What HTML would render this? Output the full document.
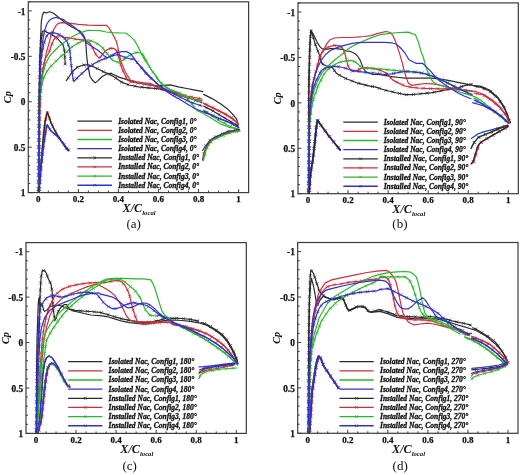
<!DOCTYPE html><html><head><meta charset="utf-8"><style>html,body{margin:0;padding:0;background:#fff;width:520px;height:475px;overflow:hidden}svg{display:block}</style></head><body>
<svg width="520" height="475" viewBox="0 0 520 475">
<rect width="520" height="475" fill="#fff"/>
<clipPath id="cpa"><rect x="28.28" y="1.81" width="220.33" height="190.78"/></clipPath>
<g clip-path="url(#cpa)" fill="none" stroke-width="1.2" stroke-linejoin="round" stroke-linecap="round">
<path d="M38.5,192.5 38.6,160 38.8,120 39.2,90 39.8,60 40.5,40 41.3,22 42.4,15 43.9,12.1 46.4,13 49.5,11.7 52,12.5 54.5,14 59,17.7 66.3,23.6 72,27 76.6,29.5 79.8,31 82.9,34.1 84.8,38 86,45 86.6,55 87.5,63 88.3,67.3 90,76.5 92.3,80 95.2,82.9 98.1,80.6 101.5,77.1 106.2,74.2 110.8,73.3 119.5,77.4 129,80.2 138.5,83 148,85 157.4,85.9 170,84.8 178.4,86.8 186.8,88.5 195.3,90.2 202.8,91.6" stroke="#2a2a2a"/>
<path d="M203.7,94.4 212.1,98.6 220.5,103.7 227.3,108.7 232.3,113.8 236.5,118.8 238.4,125" stroke="#2a2a2a"/>
<path d="M38.6,192.5 38.7,150 39,110 39.5,80 40.2,55 41,42 42.4,31.3 44.2,30.8 47,32.2 49.5,33.5 53.3,35.4 57,37.9 60.2,41.7 62.7,44.2 64,48 64.6,53 65,60 65.2,64.4" stroke="#2a2a2a"/>
<path d="M37.41,187.8l2.4,2.4m0,-2.4l-2.4,2.4M37.42,180.8l2.4,2.4m0,-2.4l-2.4,2.4M37.44,173.8l2.4,2.4m0,-2.4l-2.4,2.4M37.46,166.8l2.4,2.4m0,-2.4l-2.4,2.4M37.47,159.8l2.4,2.4m0,-2.4l-2.4,2.4M37.49,152.8l2.4,2.4m0,-2.4l-2.4,2.4M37.52,145.8l2.4,2.4m0,-2.4l-2.4,2.4M37.57,138.8l2.4,2.4m0,-2.4l-2.4,2.4M37.63,131.8l2.4,2.4m0,-2.4l-2.4,2.4M37.68,124.8l2.4,2.4m0,-2.4l-2.4,2.4M37.73,117.8l2.4,2.4m0,-2.4l-2.4,2.4M37.78,110.8l2.4,2.4m0,-2.4l-2.4,2.4M37.88,103.8l2.4,2.4m0,-2.4l-2.4,2.4M38,96.8l2.4,2.4m0,-2.4l-2.4,2.4M38.12,89.8l2.4,2.4m0,-2.4l-2.4,2.4M38.23,82.8l2.4,2.4m0,-2.4l-2.4,2.4M38.38,75.81l2.4,2.4m0,-2.4l-2.4,2.4M38.58,68.81l2.4,2.4m0,-2.4l-2.4,2.4M38.78,61.81l2.4,2.4m0,-2.4l-2.4,2.4M38.97,54.81l2.4,2.4m0,-2.4l-2.4,2.4M39.37,47.83l2.4,2.4m0,-2.4l-2.4,2.4M39.8,40.84l2.4,2.4m0,-2.4l-2.4,2.4M40.7,33.9l2.4,2.4m0,-2.4l-2.4,2.4M44.16,30.18l2.4,2.4m0,-2.4l-2.4,2.4M50.4,33.35l2.4,2.4m0,-2.4l-2.4,2.4M56.21,37.19l2.4,2.4m0,-2.4l-2.4,2.4M60.89,42.39l2.4,2.4m0,-2.4l-2.4,2.4M63.05,48.9l2.4,2.4m0,-2.4l-2.4,2.4M63.63,55.88l2.4,2.4m0,-2.4l-2.4,2.4M63.98,62.87l2.4,2.4m0,-2.4l-2.4,2.4" stroke="#2a2a2a" stroke-width="0.7"/>
<path d="M66.3,80.6 69.2,76.5 72.7,71.3 77.3,67.3 83.1,65 87.7,64.8 92.3,66.2 98.1,69 103.8,71.9 109.6,74.2 114.2,77.1 121.4,82.1 129,85 138.5,86.9 148,87.8 157.4,88.7 166.9,90.6 178.4,93.6 186.8,97 195.3,100.3 202,102.8" stroke="#2a2a2a"/>
<path d="M67.12,76.54l2.4,2.4m0,-2.4l-2.4,2.4M71.06,70.76l2.4,2.4m0,-2.4l-2.4,2.4M76.21,66.06l2.4,2.4m0,-2.4l-2.4,2.4M82.77,63.76l2.4,2.4m0,-2.4l-2.4,2.4M89.63,64.55l2.4,2.4m0,-2.4l-2.4,2.4M96.02,67.37l2.4,2.4m0,-2.4l-2.4,2.4M102.27,70.53l2.4,2.4m0,-2.4l-2.4,2.4M108.73,73.21l2.4,2.4m0,-2.4l-2.4,2.4M114.6,77.01l2.4,2.4m0,-2.4l-2.4,2.4M120.37,80.97l2.4,2.4m0,-2.4l-2.4,2.4M126.91,83.46l2.4,2.4m0,-2.4l-2.4,2.4M133.73,84.99l2.4,2.4m0,-2.4l-2.4,2.4M140.65,86.02l2.4,2.4m0,-2.4l-2.4,2.4M147.61,86.68l2.4,2.4m0,-2.4l-2.4,2.4M154.58,87.35l2.4,2.4m0,-2.4l-2.4,2.4M161.47,88.55l2.4,2.4m0,-2.4l-2.4,2.4M168.3,90.08l2.4,2.4m0,-2.4l-2.4,2.4M175.07,91.85l2.4,2.4m0,-2.4l-2.4,2.4M181.65,94.2l2.4,2.4m0,-2.4l-2.4,2.4M188.15,96.79l2.4,2.4m0,-2.4l-2.4,2.4M194.68,99.32l2.4,2.4m0,-2.4l-2.4,2.4" stroke="#2a2a2a" stroke-width="0.7"/>
<path d="M203.7,106.2 212.1,110.4 220.5,115.5 228.9,120.5 237.4,125.6 239,128" stroke="#2a2a2a"/>
<path d="M205.63,106.57l2.4,2.4m0,-2.4l-2.4,2.4M211.85,109.78l2.4,2.4m0,-2.4l-2.4,2.4M217.83,113.41l2.4,2.4m0,-2.4l-2.4,2.4M223.84,117l2.4,2.4m0,-2.4l-2.4,2.4M229.85,120.59l2.4,2.4m0,-2.4l-2.4,2.4M235.85,124.19l2.4,2.4m0,-2.4l-2.4,2.4" stroke="#2a2a2a" stroke-width="0.7"/>
<path d="M39,192.5 39.3,150 39.6,110 40.4,94.2 41.3,81.6 42.5,71.5 44.4,62.6 46.5,52 48.8,44.2 50.7,36.6 53.3,30.3 55.8,25.9 58.3,23.4 62.1,22.7 66,22.9 70.9,23.4 78.5,24.3 88.4,25.2 97.9,25.3 106.3,25.3 108.8,27.6 111.4,32 113.9,36.4 116.4,41.5 117.7,46.5 118.9,52.8 120.2,57.9 122.1,64.2 124.6,70.5 127.8,76.2 130.3,80 135.8,81.5 143.4,82.8 150,83.4 160,88 170,92.5 186.8,97.8 202,100.3" stroke="#c8323c"/>
<path d="M203.7,103.7 213.8,108.7 223.9,113.8 232.3,118.8 238.2,123.9" stroke="#c8323c"/>
<path d="M39.2,192.5 39.5,150 39.8,115 40.5,95 41.5,80 43,68 45.5,58 48.8,53 51.4,45.5 53.3,40.4 55.2,37.9 57.7,36 60.8,36 64.6,37.3 68.4,37.9 72.2,38.5 76,39.2 81,39.8 86.5,40.7 90.3,43.6 93.2,49.3 96,54.9 98.8,57.8 100,57.9 102.5,54.1 106.3,50.3 110.1,48.4 113.9,48.4 116.4,50.3 118.3,55.4 119.6,60.4 120.8,65.5 122.7,70.5 125.3,75.6 127.2,80 131,82 140,83.5 150,84.5 160,88 170,91 186.8,96 202,99" stroke="#c8323c"/>
<path d="M38.02,187.8l2.4,2.4m0,-2.4l-2.4,2.4M38.07,180.8l2.4,2.4m0,-2.4l-2.4,2.4M38.12,173.8l2.4,2.4m0,-2.4l-2.4,2.4M38.17,166.8l2.4,2.4m0,-2.4l-2.4,2.4M38.22,159.8l2.4,2.4m0,-2.4l-2.4,2.4M38.27,152.8l2.4,2.4m0,-2.4l-2.4,2.4M38.33,145.8l2.4,2.4m0,-2.4l-2.4,2.4M38.39,138.8l2.4,2.4m0,-2.4l-2.4,2.4M38.45,131.8l2.4,2.4m0,-2.4l-2.4,2.4M38.51,124.8l2.4,2.4m0,-2.4l-2.4,2.4M38.57,117.8l2.4,2.4m0,-2.4l-2.4,2.4M38.7,110.8l2.4,2.4m0,-2.4l-2.4,2.4M38.95,103.81l2.4,2.4m0,-2.4l-2.4,2.4M39.19,96.81l2.4,2.4m0,-2.4l-2.4,2.4M39.57,89.82l2.4,2.4m0,-2.4l-2.4,2.4M40.03,82.84l2.4,2.4m0,-2.4l-2.4,2.4M40.67,75.87l2.4,2.4m0,-2.4l-2.4,2.4M41.53,68.92l2.4,2.4m0,-2.4l-2.4,2.4M42.98,62.09l2.4,2.4m0,-2.4l-2.4,2.4M45.15,55.51l2.4,2.4m0,-2.4l-2.4,2.4M48.44,49.38l2.4,2.4m0,-2.4l-2.4,2.4M50.77,42.78l2.4,2.4m0,-2.4l-2.4,2.4M54.03,36.68l2.4,2.4m0,-2.4l-2.4,2.4M60.36,35.06l2.4,2.4m0,-2.4l-2.4,2.4M67.14,36.69l2.4,2.4m0,-2.4l-2.4,2.4M74.04,37.86l2.4,2.4m0,-2.4l-2.4,2.4M80.97,38.79l2.4,2.4m0,-2.4l-2.4,2.4M87.38,41.09l2.4,2.4m0,-2.4l-2.4,2.4M91.29,46.71l2.4,2.4m0,-2.4l-2.4,2.4M94.43,52.97l2.4,2.4m0,-2.4l-2.4,2.4M99.32,55.91l2.4,2.4m0,-2.4l-2.4,2.4M103.7,50.5l2.4,2.4m0,-2.4l-2.4,2.4M109.67,47.2l2.4,2.4m0,-2.4l-2.4,2.4M115.49,49.88l2.4,2.4m0,-2.4l-2.4,2.4M117.7,56.51l2.4,2.4m0,-2.4l-2.4,2.4M119.37,63.31l2.4,2.4m0,-2.4l-2.4,2.4M121.79,69.87l2.4,2.4m0,-2.4l-2.4,2.4M124.86,76.16l2.4,2.4m0,-2.4l-2.4,2.4M129.65,80.72l2.4,2.4m0,-2.4l-2.4,2.4M136.53,81.92l2.4,2.4m0,-2.4l-2.4,2.4M143.48,82.77l2.4,2.4m0,-2.4l-2.4,2.4M150.36,83.85l2.4,2.4m0,-2.4l-2.4,2.4M156.97,86.16l2.4,2.4m0,-2.4l-2.4,2.4M163.64,88.25l2.4,2.4m0,-2.4l-2.4,2.4M170.35,90.26l2.4,2.4m0,-2.4l-2.4,2.4M177.06,92.26l2.4,2.4m0,-2.4l-2.4,2.4M183.77,94.25l2.4,2.4m0,-2.4l-2.4,2.4M190.59,95.79l2.4,2.4m0,-2.4l-2.4,2.4M197.46,97.14l2.4,2.4m0,-2.4l-2.4,2.4" stroke="#c8323c" stroke-width="0.7"/>
<path d="M203.7,103 213.8,108 223.9,113 232.3,118 238.2,124" stroke="#c8323c"/>
<path d="M205.64,103.35l2.4,2.4m0,-2.4l-2.4,2.4M211.91,106.46l2.4,2.4m0,-2.4l-2.4,2.4M218.18,109.56l2.4,2.4m0,-2.4l-2.4,2.4M224.38,112.8l2.4,2.4m0,-2.4l-2.4,2.4M230.4,116.38l2.4,2.4m0,-2.4l-2.4,2.4M235.44,121.21l2.4,2.4m0,-2.4l-2.4,2.4" stroke="#c8323c" stroke-width="0.7"/>
<path d="M38.4,192.5 38.5,150 38.7,110 40,94.2 41.3,82.8 43.2,72.7 45.7,63.9 49.5,56.3 53.3,52 58.3,47 63.4,42.9 68.4,39.2 73.5,36 78.5,33.5 83.6,31.6 88,30.3 94,30.5 100,30.7 106.3,32 112.6,32.6 118.9,32.9 125.9,33 130.3,36.4 134.1,40.2 136.6,44 139.2,49.1 141.7,54.1 144.2,59.2 148,64.2 151.8,70.5 155.6,75.6 158.1,80 163.1,85 170.7,89.7 178.4,92.5 186.8,97.8 196.9,110.4 203.7,113.8 212.1,118.8 220.5,123.9 228.9,127.3 238.2,129" stroke="#2eb42e"/>
<path d="M38.4,192.5 38.6,150 38.7,110 39.6,100.5 40.6,91.7 41.9,84.1 43.8,77.8 46.9,71.5 50.7,66.4 55.8,61.4 60.8,56.3 65.9,52.5 72.2,46.7 77.3,43.6 82.3,41 88,39.8 94,42 100,45.3 103.8,49.1 107.6,54.1 112.6,60.4 117.7,62.3 122.7,60.4 127.8,56.6 132.8,53.5 137.9,52.2 141.7,53.5 143.6,55.4 145.5,59.2 148,64.2 151.8,70.5 155.6,75.6 160,82 165,87 170.7,89.7 180,93.5 190,98 202,102" stroke="#2eb42e"/>
<path d="M37.22,187.8l2.4,2.4m0,-2.4l-2.4,2.4M37.25,180.8l2.4,2.4m0,-2.4l-2.4,2.4M37.28,173.8l2.4,2.4m0,-2.4l-2.4,2.4M37.32,166.8l2.4,2.4m0,-2.4l-2.4,2.4M37.35,159.8l2.4,2.4m0,-2.4l-2.4,2.4M37.38,152.8l2.4,2.4m0,-2.4l-2.4,2.4M37.41,145.8l2.4,2.4m0,-2.4l-2.4,2.4M37.42,138.8l2.4,2.4m0,-2.4l-2.4,2.4M37.44,131.8l2.4,2.4m0,-2.4l-2.4,2.4M37.46,124.8l2.4,2.4m0,-2.4l-2.4,2.4M37.48,117.8l2.4,2.4m0,-2.4l-2.4,2.4M37.49,110.8l2.4,2.4m0,-2.4l-2.4,2.4M37.97,103.82l2.4,2.4m0,-2.4l-2.4,2.4M38.68,96.86l2.4,2.4m0,-2.4l-2.4,2.4M39.5,89.91l2.4,2.4m0,-2.4l-2.4,2.4M40.68,83.01l2.4,2.4m0,-2.4l-2.4,2.4M42.74,76.32l2.4,2.4m0,-2.4l-2.4,2.4M45.87,70.07l2.4,2.4m0,-2.4l-2.4,2.4M50.16,64.55l2.4,2.4m0,-2.4l-2.4,2.4M55.15,59.64l2.4,2.4m0,-2.4l-2.4,2.4M60.12,54.72l2.4,2.4m0,-2.4l-2.4,2.4M65.64,50.43l2.4,2.4m0,-2.4l-2.4,2.4M70.79,45.69l2.4,2.4m0,-2.4l-2.4,2.4M76.77,42.05l2.4,2.4m0,-2.4l-2.4,2.4M83.17,39.36l2.4,2.4m0,-2.4l-2.4,2.4M89.89,39.73l2.4,2.4m0,-2.4l-2.4,2.4M96.22,42.68l2.4,2.4m0,-2.4l-2.4,2.4M101.67,46.97l2.4,2.4m0,-2.4l-2.4,2.4M106.04,52.42l2.4,2.4m0,-2.4l-2.4,2.4M110.38,57.91l2.4,2.4m0,-2.4l-2.4,2.4M116.42,61.07l2.4,2.4m0,-2.4l-2.4,2.4M122.76,58.26l2.4,2.4m0,-2.4l-2.4,2.4M128.47,54.24l2.4,2.4m0,-2.4l-2.4,2.4M134.82,51.48l2.4,2.4m0,-2.4l-2.4,2.4M141.24,53.04l2.4,2.4m0,-2.4l-2.4,2.4M144.8,58.99l2.4,2.4m0,-2.4l-2.4,2.4M148.1,65.16l2.4,2.4m0,-2.4l-2.4,2.4M151.89,71.03l2.4,2.4m0,-2.4l-2.4,2.4M155.99,76.71l2.4,2.4m0,-2.4l-2.4,2.4M160.24,82.24l2.4,2.4m0,-2.4l-2.4,2.4M165.57,86.64l2.4,2.4m0,-2.4l-2.4,2.4M171.96,89.5l2.4,2.4m0,-2.4l-2.4,2.4M178.44,92.15l2.4,2.4m0,-2.4l-2.4,2.4M184.83,95.01l2.4,2.4m0,-2.4l-2.4,2.4M191.31,97.64l2.4,2.4m0,-2.4l-2.4,2.4M197.95,99.85l2.4,2.4m0,-2.4l-2.4,2.4" stroke="#2eb42e" stroke-width="0.7"/>
<path d="M203.7,110 212,116 220,121 229,126 238,129" stroke="#2eb42e"/>
<path d="M205.34,110.85l2.4,2.4m0,-2.4l-2.4,2.4M211.02,114.94l2.4,2.4m0,-2.4l-2.4,2.4M216.96,118.65l2.4,2.4m0,-2.4l-2.4,2.4M223.02,122.14l2.4,2.4m0,-2.4l-2.4,2.4M229.25,125.28l2.4,2.4m0,-2.4l-2.4,2.4M235.89,127.5l2.4,2.4m0,-2.4l-2.4,2.4" stroke="#2eb42e" stroke-width="0.7"/>
<path d="M38.8,192.5 39,150 39.3,110 39.8,80 40.5,60 41.9,48 43.2,37.9 45.1,29 46.9,24 49.5,20.2 52.6,18.3 55.8,17.5 59.6,18.3 63.4,19.6 65.9,21.5 69.7,24 73.5,26.5 77.3,29.7 81,33.5 84.2,37.9 86.7,42.9 90.3,45.5 97.9,50.2 103.8,55.4 107.6,57.9 111.4,55.4 116.4,52.8 121.5,51.6 126.5,51.6 130.3,53.5 132.8,56.6 135.4,60.4 137.9,63.6 141.7,67.4 146.7,73.1 151.8,78.1 159.3,85.9 165,90.6 172.6,95.4 178.4,98.6 186.8,103.7 195.3,108.7 203.7,112.1 212.1,115.5 220.5,118.8 228.9,122.2 238.2,127.3" stroke="#3232c8"/>
<path d="M38.7,192.5 38.9,150 39.2,110 40,80 41,60 42.5,50.5 44.4,41.7 46.3,36.6 48.2,34.1 50.1,32.8 52.6,32.6 55.2,33.1 58.3,34.1 61.5,36 64.6,38.5 67.2,41.7 69,46.7 69.8,50 70.5,58 71.5,67.3 72.7,76.5 73.8,81.7 78.5,76.5 83.1,72.5 88.8,67.3 94.6,63.3 100.4,60.4 106.2,58.1 111.9,55.8 118,54.5 124,57 130,59 134.1,59.2 136.6,61.7 140.4,66.7 145.5,73 150.5,78.1 160,86 170,92 180,97 190,102 202,106" stroke="#3232c8"/>
<path d="M37.52,187.8l2.4,2.4m0,-2.4l-2.4,2.4M37.55,180.8l2.4,2.4m0,-2.4l-2.4,2.4M37.58,173.8l2.4,2.4m0,-2.4l-2.4,2.4M37.62,166.8l2.4,2.4m0,-2.4l-2.4,2.4M37.65,159.8l2.4,2.4m0,-2.4l-2.4,2.4M37.68,152.8l2.4,2.4m0,-2.4l-2.4,2.4M37.72,145.8l2.4,2.4m0,-2.4l-2.4,2.4M37.77,138.8l2.4,2.4m0,-2.4l-2.4,2.4M37.83,131.8l2.4,2.4m0,-2.4l-2.4,2.4M37.88,124.8l2.4,2.4m0,-2.4l-2.4,2.4M37.93,117.8l2.4,2.4m0,-2.4l-2.4,2.4M37.98,110.8l2.4,2.4m0,-2.4l-2.4,2.4M38.13,103.8l2.4,2.4m0,-2.4l-2.4,2.4M38.32,96.81l2.4,2.4m0,-2.4l-2.4,2.4M38.51,89.81l2.4,2.4m0,-2.4l-2.4,2.4M38.69,82.81l2.4,2.4m0,-2.4l-2.4,2.4M38.95,75.82l2.4,2.4m0,-2.4l-2.4,2.4M39.3,68.82l2.4,2.4m0,-2.4l-2.4,2.4M39.65,61.83l2.4,2.4m0,-2.4l-2.4,2.4M40.42,54.89l2.4,2.4m0,-2.4l-2.4,2.4M41.58,47.99l2.4,2.4m0,-2.4l-2.4,2.4M43.06,41.14l2.4,2.4m0,-2.4l-2.4,2.4M45.64,34.68l2.4,2.4m0,-2.4l-2.4,2.4M51.35,31.4l2.4,2.4m0,-2.4l-2.4,2.4M58,33.43l2.4,2.4m0,-2.4l-2.4,2.4M63.61,37.56l2.4,2.4m0,-2.4l-2.4,2.4M67.09,43.53l2.4,2.4m0,-2.4l-2.4,2.4M68.73,50.3l2.4,2.4m0,-2.4l-2.4,2.4M69.35,57.27l2.4,2.4m0,-2.4l-2.4,2.4M70.1,64.23l2.4,2.4m0,-2.4l-2.4,2.4M70.96,71.18l2.4,2.4m0,-2.4l-2.4,2.4M72.09,78.08l2.4,2.4m0,-2.4l-2.4,2.4M75.64,77.14l2.4,2.4m0,-2.4l-2.4,2.4M80.71,72.33l2.4,2.4m0,-2.4l-2.4,2.4M85.91,67.64l2.4,2.4m0,-2.4l-2.4,2.4M91.48,63.43l2.4,2.4m0,-2.4l-2.4,2.4M97.57,60.01l2.4,2.4m0,-2.4l-2.4,2.4M104.01,57.29l2.4,2.4m0,-2.4l-2.4,2.4M110.51,54.68l2.4,2.4m0,-2.4l-2.4,2.4M117.31,53.51l2.4,2.4m0,-2.4l-2.4,2.4M123.8,56.13l2.4,2.4m0,-2.4l-2.4,2.4M130.53,57.88l2.4,2.4m0,-2.4l-2.4,2.4M136.06,61.37l2.4,2.4m0,-2.4l-2.4,2.4M140.34,66.91l2.4,2.4m0,-2.4l-2.4,2.4M144.79,72.3l2.4,2.4m0,-2.4l-2.4,2.4M149.73,77.26l2.4,2.4m0,-2.4l-2.4,2.4M155.12,81.74l2.4,2.4m0,-2.4l-2.4,2.4M160.69,85.94l2.4,2.4m0,-2.4l-2.4,2.4M166.7,89.54l2.4,2.4m0,-2.4l-2.4,2.4M172.87,92.83l2.4,2.4m0,-2.4l-2.4,2.4M179.13,95.96l2.4,2.4m0,-2.4l-2.4,2.4M185.39,99.09l2.4,2.4m0,-2.4l-2.4,2.4M191.82,101.81l2.4,2.4m0,-2.4l-2.4,2.4M198.46,104.02l2.4,2.4m0,-2.4l-2.4,2.4" stroke="#3232c8" stroke-width="0.7"/>
<path d="M203.7,111 212,115 220,119 229,122.5 238,127" stroke="#3232c8"/>
<path d="M205.65,111.32l2.4,2.4m0,-2.4l-2.4,2.4M211.95,114.38l2.4,2.4m0,-2.4l-2.4,2.4M218.21,117.51l2.4,2.4m0,-2.4l-2.4,2.4M224.71,120.1l2.4,2.4m0,-2.4l-2.4,2.4M231.1,122.95l2.4,2.4m0,-2.4l-2.4,2.4" stroke="#3232c8" stroke-width="0.7"/>
<path d="M38.3,192.5 39.7,175 41.8,152 43.3,134.3 44.8,121.2 47,111.9 48.8,117.1 50.9,123.2 53.9,129.3 57.9,136.4 62,142.4 66,148.5 68.1,150.5" stroke="#2eb42e"/>
<path d="M38.9,192.8 40.3,175.3 42.4,152.3 43.9,134.6 45.4,121.5 47.6,112.2 49.4,117.4 51.5,123.5 54.5,129.6 58.5,136.7 62.6,142.7 66.6,148.8 68.7,150.8" stroke="#c8323c"/>
<path d="M37.98,188.11l2.4,2.4m0,-2.4l-2.4,2.4M38.54,181.13l2.4,2.4m0,-2.4l-2.4,2.4M39.1,174.16l2.4,2.4m0,-2.4l-2.4,2.4M39.73,167.18l2.4,2.4m0,-2.4l-2.4,2.4M40.37,160.21l2.4,2.4m0,-2.4l-2.4,2.4M41,153.24l2.4,2.4m0,-2.4l-2.4,2.4M41.61,146.27l2.4,2.4m0,-2.4l-2.4,2.4M42.2,139.29l2.4,2.4m0,-2.4l-2.4,2.4M42.82,132.32l2.4,2.4m0,-2.4l-2.4,2.4M43.62,125.37l2.4,2.4m0,-2.4l-2.4,2.4M44.64,118.45l2.4,2.4m0,-2.4l-2.4,2.4M46.25,111.64l2.4,2.4m0,-2.4l-2.4,2.4M48.47,116.99l2.4,2.4m0,-2.4l-2.4,2.4M50.91,123.55l2.4,2.4m0,-2.4l-2.4,2.4M54.08,129.79l2.4,2.4m0,-2.4l-2.4,2.4M57.55,135.86l2.4,2.4m0,-2.4l-2.4,2.4M61.5,141.65l2.4,2.4m0,-2.4l-2.4,2.4M65.33,147.5l2.4,2.4m0,-2.4l-2.4,2.4" stroke="#c8323c" stroke-width="0.7"/>
<path d="M38.6,192.5 40,175 42.1,152 43.6,134.3 45.1,121.2 47.3,111.9 49.1,117.1 51.2,123.2 54.2,129.3 58.2,136.4 62.3,142.4 66.3,148.5 68.4,150.5" stroke="#2a2a2a"/>
<path d="M39.2,192.5 40.8,172 42.9,152 44.9,137.4 46.4,128.3 47.4,124.7 49.4,128.3 51.5,131.3 54.5,133.8 58.5,137.4 62.6,142.4 66.6,147.5 68.7,150" stroke="#3232c8"/>
<path d="M38.27,187.81l2.4,2.4m0,-2.4l-2.4,2.4M38.82,180.83l2.4,2.4m0,-2.4l-2.4,2.4M39.36,173.85l2.4,2.4m0,-2.4l-2.4,2.4M40.01,166.88l2.4,2.4m0,-2.4l-2.4,2.4M40.74,159.92l2.4,2.4m0,-2.4l-2.4,2.4M41.47,152.96l2.4,2.4m0,-2.4l-2.4,2.4M42.36,146.02l2.4,2.4m0,-2.4l-2.4,2.4M43.31,139.08l2.4,2.4m0,-2.4l-2.4,2.4M44.37,132.16l2.4,2.4m0,-2.4l-2.4,2.4M45.7,125.3l2.4,2.4m0,-2.4l-2.4,2.4M48.78,127.93l2.4,2.4m0,-2.4l-2.4,2.4M53.63,132.9l2.4,2.4m0,-2.4l-2.4,2.4M58.61,137.8l2.4,2.4m0,-2.4l-2.4,2.4M63,143.25l2.4,2.4m0,-2.4l-2.4,2.4M67.41,148.69l2.4,2.4m0,-2.4l-2.4,2.4" stroke="#3232c8" stroke-width="0.7"/>
<path d="M38.9,192.5 40.5,172 42.6,152 44.6,137.4 46.1,128.3 47.1,124.7 49.1,128.3 51.2,131.3 54.2,133.8 58.2,137.4 62.3,142.4 66.3,147.5 68.4,150" stroke="#3232c8"/>
<path d="M239.3,129.5 227.9,131.4 219,135.2 212.7,138.4 208.9,141.5 205.2,146.6 202.6,150.4" stroke="#3232c8"/>
<path d="M234.65,128.88l2.4,2.4m0,-2.4l-2.4,2.4M227.74,130.03l2.4,2.4m0,-2.4l-2.4,2.4M221.23,132.53l2.4,2.4m0,-2.4l-2.4,2.4M214.89,135.48l2.4,2.4m0,-2.4l-2.4,2.4M209.02,139.22l2.4,2.4m0,-2.4l-2.4,2.4M204.59,144.59l2.4,2.4m0,-2.4l-2.4,2.4" stroke="#3232c8" stroke-width="0.7"/>
<path d="M239.3,130.2 231.7,131.4 224.1,133.9 216.5,137.1 211.5,139.6 208.9,142.8 206.4,146.6 204.5,151.6 203.3,156.7 202.6,159.8" stroke="#2a2a2a"/>
<path d="M234.64,129.55l2.4,2.4m0,-2.4l-2.4,2.4M227.83,131.08l2.4,2.4m0,-2.4l-2.4,2.4M221.24,133.4l2.4,2.4m0,-2.4l-2.4,2.4M214.8,136.15l2.4,2.4m0,-2.4l-2.4,2.4M209.06,139.93l2.4,2.4m0,-2.4l-2.4,2.4M205.09,145.68l2.4,2.4m0,-2.4l-2.4,2.4M202.85,152.3l2.4,2.4m0,-2.4l-2.4,2.4" stroke="#2a2a2a" stroke-width="0.7"/>
<path d="M239.7,130.6 232.1,131.8 224.5,134.3 216.9,137.5 211.9,140 209.3,143.2 206.8,147 204.9,152 203.7,157.1 203,160.2" stroke="#c8323c"/>
<path d="M235.04,129.95l2.4,2.4m0,-2.4l-2.4,2.4M228.23,131.48l2.4,2.4m0,-2.4l-2.4,2.4M221.64,133.8l2.4,2.4m0,-2.4l-2.4,2.4M215.2,136.55l2.4,2.4m0,-2.4l-2.4,2.4M209.46,140.33l2.4,2.4m0,-2.4l-2.4,2.4M205.49,146.08l2.4,2.4m0,-2.4l-2.4,2.4M203.25,152.7l2.4,2.4m0,-2.4l-2.4,2.4" stroke="#c8323c" stroke-width="0.7"/>
<path d="M240.1,131 232.5,132.2 224.9,134.7 217.3,137.9 212.3,140.4 209.7,143.6 207.2,147.4 205.3,152.4 204.1,157.5 203.4,160.6" stroke="#2eb42e"/>
<path d="M235.44,130.35l2.4,2.4m0,-2.4l-2.4,2.4M228.63,131.88l2.4,2.4m0,-2.4l-2.4,2.4M222.04,134.2l2.4,2.4m0,-2.4l-2.4,2.4M215.6,136.95l2.4,2.4m0,-2.4l-2.4,2.4M209.86,140.73l2.4,2.4m0,-2.4l-2.4,2.4M205.89,146.48l2.4,2.4m0,-2.4l-2.4,2.4M203.65,153.1l2.4,2.4m0,-2.4l-2.4,2.4" stroke="#2eb42e" stroke-width="0.7"/>
</g>
<rect x="28.28" y="1.81" width="220.33" height="190.78" fill="none" stroke="#3c3c3c" stroke-width="1.2"/>
<path d="M28.28,1.81h2M28.28,10.9h3.5M28.28,19.98h2M28.28,29.07h2M28.28,38.16h2M28.28,47.24h2M28.28,56.33h3.5M28.28,65.41h2M28.28,74.5h2M28.28,83.58h2M28.28,92.67h2M28.28,101.75h3.5M28.28,110.83h2M28.28,119.92h2M28.28,129h2M28.28,138.09h2M28.28,147.18h3.5M28.28,156.26h2M28.28,165.34h2M28.28,174.43h2M28.28,183.51h2M28.28,192.6h3.5M38.3,192.6v-3.5M48.31,192.6v-2M58.33,192.6v-2M68.34,192.6v-2M78.36,192.6v-3.5M88.38,192.6v-2M98.39,192.6v-2M108.41,192.6v-2M118.42,192.6v-3.5M128.44,192.6v-2M138.45,192.6v-2M148.47,192.6v-2M158.48,192.6v-3.5M168.5,192.6v-2M178.51,192.6v-2M188.53,192.6v-2M198.54,192.6v-3.5M208.56,192.6v-2M218.57,192.6v-2M228.58,192.6v-2M238.6,192.6v-3.5" stroke="#3c3c3c" stroke-width="1" fill="none"/>
<text x="25.38" y="14.6" text-anchor="end" style="font-family:'Liberation Serif',serif;font-weight:bold;font-size:9.3px" fill="#111" stroke="#111" stroke-width="0.25">-1</text>
<text x="25.38" y="60.03" text-anchor="end" style="font-family:'Liberation Serif',serif;font-weight:bold;font-size:9.3px" fill="#111" stroke="#111" stroke-width="0.25">-0.5</text>
<text x="25.38" y="105.45" text-anchor="end" style="font-family:'Liberation Serif',serif;font-weight:bold;font-size:9.3px" fill="#111" stroke="#111" stroke-width="0.25">0</text>
<text x="25.38" y="150.88" text-anchor="end" style="font-family:'Liberation Serif',serif;font-weight:bold;font-size:9.3px" fill="#111" stroke="#111" stroke-width="0.25">0.5</text>
<text x="25.38" y="196.3" text-anchor="end" style="font-family:'Liberation Serif',serif;font-weight:bold;font-size:9.3px" fill="#111" stroke="#111" stroke-width="0.25">1</text>
<text x="38.3" y="202.2" text-anchor="middle" style="font-family:'Liberation Serif',serif;font-weight:bold;font-size:9px" fill="#111" stroke="#111" stroke-width="0.25">0</text>
<text x="78.36" y="202.2" text-anchor="middle" style="font-family:'Liberation Serif',serif;font-weight:bold;font-size:9px" fill="#111" stroke="#111" stroke-width="0.25">0.2</text>
<text x="118.42" y="202.2" text-anchor="middle" style="font-family:'Liberation Serif',serif;font-weight:bold;font-size:9px" fill="#111" stroke="#111" stroke-width="0.25">0.4</text>
<text x="158.48" y="202.2" text-anchor="middle" style="font-family:'Liberation Serif',serif;font-weight:bold;font-size:9px" fill="#111" stroke="#111" stroke-width="0.25">0.6</text>
<text x="198.54" y="202.2" text-anchor="middle" style="font-family:'Liberation Serif',serif;font-weight:bold;font-size:9px" fill="#111" stroke="#111" stroke-width="0.25">0.8</text>
<text x="238.6" y="202.2" text-anchor="middle" style="font-family:'Liberation Serif',serif;font-weight:bold;font-size:9px" fill="#111" stroke="#111" stroke-width="0.25">1</text>
<text x="122.6" y="211.8" style="font-family:'Liberation Serif',serif;font-weight:bold;font-style:italic;font-size:12.2px" fill="#111">X/C<tspan dy="3.4" style="font-size:6.7px">local</tspan></text>
<text transform="translate(10.88,97.21) rotate(-90)" text-anchor="middle" style="font-family:'Liberation Serif',serif;font-weight:bold;font-style:italic;font-size:10.2px" fill="#111">Cp</text>
<text x="133.6" y="227.6" text-anchor="middle" style="font-family:'Liberation Serif',serif;font-size:13px" fill="#111">(a)</text>
<path d="M77.4,121.2H112" stroke="#2a2a2a" stroke-width="1.3"/>
<text x="118.2" y="123.6" style="font-family:'Liberation Serif',serif;font-weight:bold;font-style:italic;font-size:7.5px" fill="#111" stroke="#111" stroke-width="0.3">Isolated Nac, Config1, 0°</text>
<path d="M77.4,130.35H112" stroke="#c8323c" stroke-width="1.3"/>
<text x="118.2" y="132.75" style="font-family:'Liberation Serif',serif;font-weight:bold;font-style:italic;font-size:7.5px" fill="#111" stroke="#111" stroke-width="0.3">Isolated Nac, Config2, 0°</text>
<path d="M77.4,139.5H112" stroke="#2eb42e" stroke-width="1.3"/>
<text x="118.2" y="141.9" style="font-family:'Liberation Serif',serif;font-weight:bold;font-style:italic;font-size:7.5px" fill="#111" stroke="#111" stroke-width="0.3">Isolated Nac, Config3, 0°</text>
<path d="M77.4,148.65H112" stroke="#3232c8" stroke-width="1.3"/>
<text x="118.2" y="151.05" style="font-family:'Liberation Serif',serif;font-weight:bold;font-style:italic;font-size:7.5px" fill="#111" stroke="#111" stroke-width="0.3">Isolated Nac, Config4, 0°</text>
<path d="M77.4,157.8H112" stroke="#2a2a2a" stroke-width="1.3"/>
<path d="M93.4,156.5L96,159.1M93.4,159.1L96,156.5" stroke="#2a2a2a" stroke-width="0.8"/>
<text x="118.2" y="160.2" style="font-family:'Liberation Serif',serif;font-weight:bold;font-style:italic;font-size:7.5px" fill="#111" stroke="#111" stroke-width="0.3">Installed Nac, Config1, 0°</text>
<path d="M77.4,166.95H112" stroke="#c8323c" stroke-width="1.3"/>
<path d="M93.4,165.65L96,168.25M93.4,168.25L96,165.65" stroke="#c8323c" stroke-width="0.8"/>
<text x="118.2" y="169.35" style="font-family:'Liberation Serif',serif;font-weight:bold;font-style:italic;font-size:7.5px" fill="#111" stroke="#111" stroke-width="0.3">Installed Nac, Config2, 0°</text>
<path d="M77.4,176.1H112" stroke="#2eb42e" stroke-width="1.3"/>
<path d="M93.4,174.8L96,177.4M93.4,177.4L96,174.8" stroke="#2eb42e" stroke-width="0.8"/>
<text x="118.2" y="178.5" style="font-family:'Liberation Serif',serif;font-weight:bold;font-style:italic;font-size:7.5px" fill="#111" stroke="#111" stroke-width="0.3">Installed Nac, Config3, 0°</text>
<path d="M77.4,185.25H112" stroke="#3232c8" stroke-width="1.3"/>
<path d="M93.4,183.95L96,186.55M93.4,186.55L96,183.95" stroke="#3232c8" stroke-width="0.8"/>
<text x="118.2" y="187.65" style="font-family:'Liberation Serif',serif;font-weight:bold;font-style:italic;font-size:7.5px" fill="#111" stroke="#111" stroke-width="0.3">Installed Nac, Config4, 0°</text>
<clipPath id="cpb"><rect x="297.99" y="2.91" width="220.33" height="190.78"/></clipPath>
<g clip-path="url(#cpb)" fill="none" stroke-width="1.2" stroke-linejoin="round" stroke-linecap="round">
<path d="M308.4,193.7 308.5,150 308.6,110 308.8,80 309.5,50 310.2,39.7 310.9,30.2 313.1,33.8 315.3,38.3 317.5,42.7 319.7,46.4 321.9,48.6 325.6,49.3 330.1,48.6 335.9,48.6 341.8,49.3 346.3,50.8 350.7,51.5 355.1,53.7 358,56.7 360.3,60.4 361.7,64.1 363.2,68 366,72 372.7,74.5 378.6,74.5 384.5,75.3 391.8,76.7 399.2,77.5 405,78.1 431.9,78.1 438.6,79 445.4,79.9 452.1,81.2 458.8,82.6 465.6,83.9 472.3,85.3 481.1,86.4 489.5,90 497.9,97.4 504.2,106.8 508.4,117.4 510.5,122.6" stroke="#2a2a2a"/>
<path d="M308.5,193.7 308.6,150 308.7,110 308.8,95 309.4,69.2 310.2,39.7 310.9,30.2 313.1,36.8 315.3,44.2 317.5,50.1 319.7,55.9 321.2,61.8 322.7,64.1 325.6,65.5 329.3,67 332.3,67.7 334.5,70.7 336.7,73.6 340.4,75.8 346.3,78.8 352.2,81 358,83.2 363.9,84.7 369.8,86.2 375,86.9 384.5,90 395,92.5 405,94.7 411.7,94.7 418.5,94 425.2,93.4 431.9,92.7 438.6,91.3 445.4,90 452.1,88.6 458.8,87.3 465.6,85.3 472.3,83.9" stroke="#2a2a2a"/>
<path d="M307.31,189l2.4,2.4m0,-2.4l-2.4,2.4M307.32,182l2.4,2.4m0,-2.4l-2.4,2.4M307.34,175l2.4,2.4m0,-2.4l-2.4,2.4M307.36,168l2.4,2.4m0,-2.4l-2.4,2.4M307.37,161l2.4,2.4m0,-2.4l-2.4,2.4M307.39,154l2.4,2.4m0,-2.4l-2.4,2.4M307.4,147l2.4,2.4m0,-2.4l-2.4,2.4M307.42,140l2.4,2.4m0,-2.4l-2.4,2.4M307.44,133l2.4,2.4m0,-2.4l-2.4,2.4M307.46,126l2.4,2.4m0,-2.4l-2.4,2.4M307.47,119l2.4,2.4m0,-2.4l-2.4,2.4M307.49,112l2.4,2.4m0,-2.4l-2.4,2.4M307.53,105l2.4,2.4m0,-2.4l-2.4,2.4M307.57,98l2.4,2.4m0,-2.4l-2.4,2.4M307.67,91l2.4,2.4m0,-2.4l-2.4,2.4M307.83,84l2.4,2.4m0,-2.4l-2.4,2.4M307.99,77.01l2.4,2.4m0,-2.4l-2.4,2.4M308.15,70.01l2.4,2.4m0,-2.4l-2.4,2.4M308.34,63.01l2.4,2.4m0,-2.4l-2.4,2.4M308.53,56.01l2.4,2.4m0,-2.4l-2.4,2.4M308.71,49.01l2.4,2.4m0,-2.4l-2.4,2.4M308.9,42.02l2.4,2.4m0,-2.4l-2.4,2.4M309.26,35.03l2.4,2.4m0,-2.4l-2.4,2.4M310,29.91l2.4,2.4m0,-2.4l-2.4,2.4M312.18,36.56l2.4,2.4m0,-2.4l-2.4,2.4M314.2,43.26l2.4,2.4m0,-2.4l-2.4,2.4M316.65,49.82l2.4,2.4m0,-2.4l-2.4,2.4M318.94,56.42l2.4,2.4m0,-2.4l-2.4,2.4M321.47,62.85l2.4,2.4m0,-2.4l-2.4,2.4M327.85,65.7l2.4,2.4m0,-2.4l-2.4,2.4M333.26,69.44l2.4,2.4m0,-2.4l-2.4,2.4M338.33,74.08l2.4,2.4m0,-2.4l-2.4,2.4M344.54,77.31l2.4,2.4m0,-2.4l-2.4,2.4M351.07,79.83l2.4,2.4m0,-2.4l-2.4,2.4M357.64,82.21l2.4,2.4m0,-2.4l-2.4,2.4M364.43,83.94l2.4,2.4m0,-2.4l-2.4,2.4M371.27,85.36l2.4,2.4m0,-2.4l-2.4,2.4M378.03,87.08l2.4,2.4m0,-2.4l-2.4,2.4M384.71,89.14l2.4,2.4m0,-2.4l-2.4,2.4M391.52,90.76l2.4,2.4m0,-2.4l-2.4,2.4M398.35,92.3l2.4,2.4m0,-2.4l-2.4,2.4M405.22,93.5l2.4,2.4m0,-2.4l-2.4,2.4M412.21,93.32l2.4,2.4m0,-2.4l-2.4,2.4M419.18,92.63l2.4,2.4m0,-2.4l-2.4,2.4M426.15,91.98l2.4,2.4m0,-2.4l-2.4,2.4M433.07,91l2.4,2.4m0,-2.4l-2.4,2.4M439.93,89.62l2.4,2.4m0,-2.4l-2.4,2.4M446.8,88.26l2.4,2.4m0,-2.4l-2.4,2.4M453.66,86.87l2.4,2.4m0,-2.4l-2.4,2.4M460.46,85.26l2.4,2.4m0,-2.4l-2.4,2.4M467.23,83.51l2.4,2.4m0,-2.4l-2.4,2.4" stroke="#2a2a2a" stroke-width="0.7"/>
<path d="M474,86 481.1,87.5 489.5,91 497.9,98.4 504.2,107.8 508.4,118 510,123" stroke="#2a2a2a"/>
<path d="M476.22,85.52l2.4,2.4m0,-2.4l-2.4,2.4M482.89,87.55l2.4,2.4m0,-2.4l-2.4,2.4M489.16,90.56l2.4,2.4m0,-2.4l-2.4,2.4M494.41,95.18l2.4,2.4m0,-2.4l-2.4,2.4M498.9,100.48l2.4,2.4m0,-2.4l-2.4,2.4M502.8,106.29l2.4,2.4m0,-2.4l-2.4,2.4M505.53,112.73l2.4,2.4m0,-2.4l-2.4,2.4M507.99,119.28l2.4,2.4m0,-2.4l-2.4,2.4" stroke="#2a2a2a" stroke-width="0.7"/>
<path d="M308.9,193.7 309.1,150 309.4,113 310,101.7 311.3,91.6 313.2,81.5 315.7,72.6 316.8,69.2 319,60.4 321.2,53.7 324.2,48.6 327.1,43.4 330.1,39.7 334.5,38 341.8,37.5 349.2,37.5 356.6,37.2 363.9,36.5 371.3,35.6 377.1,33.6 385.9,31.5 390.4,32.5 393.3,36.2 396.3,43.6 399.2,52.4 402.2,62.7 404,70 406.3,77.9 408.4,83.3 411.7,85.3 418.5,84.3 425.2,83.5 431.9,83.9 438.6,84.6 445.4,86.6 452.1,88.6 458.8,89.3 465.6,90 475,91.3 483.2,94.2 491.6,99.5 500,106.8 506.3,115.3 509.5,122.6" stroke="#c8323c"/>
<path d="M309.2,193.7 309.4,150 309.8,115 310.8,100 312.5,85 315.3,73.6 317.5,64.8 319.7,57.4 322.7,51.5 325.6,48.6 330.1,46.4 334.5,45.3 338.9,45.6 341.8,47.1 344.1,50.8 345.5,55.9 347,61.8 348.5,67 350.7,69.9 353.6,71.4 358,69.9 362.4,67.9 369.7,67.9 377.1,69.4 381.5,70.8 385.9,73 388.9,76 393.3,80.4 399.2,83.4 405,86 411.7,87.3 418.5,88 425.2,88.4 438.6,88.9 445.4,88.9 452.1,88.4 458.8,89.3 465.6,90.3 472.3,91.3" stroke="#c8323c"/>
<path d="M308.02,189l2.4,2.4m0,-2.4l-2.4,2.4M308.05,182l2.4,2.4m0,-2.4l-2.4,2.4M308.08,175l2.4,2.4m0,-2.4l-2.4,2.4M308.11,168l2.4,2.4m0,-2.4l-2.4,2.4M308.14,161l2.4,2.4m0,-2.4l-2.4,2.4M308.18,154l2.4,2.4m0,-2.4l-2.4,2.4M308.22,147l2.4,2.4m0,-2.4l-2.4,2.4M308.3,140l2.4,2.4m0,-2.4l-2.4,2.4M308.38,133l2.4,2.4m0,-2.4l-2.4,2.4M308.46,126l2.4,2.4m0,-2.4l-2.4,2.4M308.54,119l2.4,2.4m0,-2.4l-2.4,2.4M308.72,112.01l2.4,2.4m0,-2.4l-2.4,2.4M309.19,105.02l2.4,2.4m0,-2.4l-2.4,2.4M309.69,98.04l2.4,2.4m0,-2.4l-2.4,2.4M310.47,91.09l2.4,2.4m0,-2.4l-2.4,2.4M311.26,84.13l2.4,2.4m0,-2.4l-2.4,2.4M312.89,77.32l2.4,2.4m0,-2.4l-2.4,2.4M314.57,70.53l2.4,2.4m0,-2.4l-2.4,2.4M316.27,63.74l2.4,2.4m0,-2.4l-2.4,2.4M318.25,57.03l2.4,2.4m0,-2.4l-2.4,2.4M321.28,50.73l2.4,2.4m0,-2.4l-2.4,2.4M326.57,46.34l2.4,2.4m0,-2.4l-2.4,2.4M333.18,44.13l2.4,2.4m0,-2.4l-2.4,2.4M339.89,45.53l2.4,2.4m0,-2.4l-2.4,2.4M343.39,51.38l2.4,2.4m0,-2.4l-2.4,2.4M345.18,58.14l2.4,2.4m0,-2.4l-2.4,2.4M347.04,64.89l2.4,2.4m0,-2.4l-2.4,2.4M351.64,69.81l2.4,2.4m0,-2.4l-2.4,2.4M358.17,68.08l2.4,2.4m0,-2.4l-2.4,2.4M364.87,66.7l2.4,2.4m0,-2.4l-2.4,2.4M371.8,67.37l2.4,2.4m0,-2.4l-2.4,2.4M378.58,69.05l2.4,2.4m0,-2.4l-2.4,2.4M384.9,72l2.4,2.4m0,-2.4l-2.4,2.4M389.85,76.95l2.4,2.4m0,-2.4l-2.4,2.4M395.5,80.93l2.4,2.4m0,-2.4l-2.4,2.4M401.83,83.92l2.4,2.4m0,-2.4l-2.4,2.4M408.55,85.72l2.4,2.4m0,-2.4l-2.4,2.4M415.49,86.61l2.4,2.4m0,-2.4l-2.4,2.4M422.47,87.11l2.4,2.4m0,-2.4l-2.4,2.4M429.46,87.4l2.4,2.4m0,-2.4l-2.4,2.4M436.46,87.66l2.4,2.4m0,-2.4l-2.4,2.4M443.46,87.7l2.4,2.4m0,-2.4l-2.4,2.4M450.44,87.23l2.4,2.4m0,-2.4l-2.4,2.4M457.38,88.07l2.4,2.4m0,-2.4l-2.4,2.4M464.31,89.09l2.4,2.4m0,-2.4l-2.4,2.4" stroke="#c8323c" stroke-width="0.7"/>
<path d="M474,93 483.2,95 491.6,100.5 500,107.8 506.3,116 509.5,123" stroke="#c8323c"/>
<path d="M476.22,92.54l2.4,2.4m0,-2.4l-2.4,2.4M482.91,94.39l2.4,2.4m0,-2.4l-2.4,2.4M488.76,98.23l2.4,2.4m0,-2.4l-2.4,2.4M494.21,102.61l2.4,2.4m0,-2.4l-2.4,2.4M499.36,107.33l2.4,2.4m0,-2.4l-2.4,2.4M503.62,112.88l2.4,2.4m0,-2.4l-2.4,2.4M507,118.96l2.4,2.4m0,-2.4l-2.4,2.4" stroke="#c8323c" stroke-width="0.7"/>
<path d="M308.6,193.7 308.8,150 309.4,120 310,113 311.3,103 313.2,92.8 316.9,82.7 318.3,80 322,72.6 324.2,70 330.1,64 335.9,59 341.8,54.5 347.7,49.3 353.6,45.6 361,42 369.7,38.4 380,34.7 390.4,33.3 399.2,32.5 408.1,32.1 415.4,34.7 418.4,42.1 421.3,52.4 422.5,55 423.8,59 425.2,64.4 426.5,68.5 428.6,73.8 430.6,78.6 433.3,81.9 437.3,84.6 442.7,86 448.1,87.3 454.8,90 461.5,92.7 468.3,94.7 475,96.7 481.1,100.5 491.6,108.9 500,115.3 508.4,122.6" stroke="#2eb42e"/>
<path d="M308.8,193.7 309,150 309.6,125 310.6,115.6 311.9,105.5 314.4,95.4 316.1,92 318.2,85.3 321.2,80 323.3,75.2 327.1,70 333,65.5 338.9,62.5 344.8,61.1 350.7,60.4 355.1,61.8 358.8,64.8 361.7,67.7 366.9,68.5 375,68.5 384.5,69.4 391.8,70.1 399.2,70.8 405,71 411.7,71.5 418.5,72.2 425.2,73.6 431.9,75.6 438.6,78.3 445.4,81.6 452.1,85 458.8,88.4 465.6,91.7 472.3,94.4" stroke="#2eb42e"/>
<path d="M307.62,189l2.4,2.4m0,-2.4l-2.4,2.4M307.65,182l2.4,2.4m0,-2.4l-2.4,2.4M307.68,175l2.4,2.4m0,-2.4l-2.4,2.4M307.71,168l2.4,2.4m0,-2.4l-2.4,2.4M307.74,161l2.4,2.4m0,-2.4l-2.4,2.4M307.78,154l2.4,2.4m0,-2.4l-2.4,2.4M307.84,147l2.4,2.4m0,-2.4l-2.4,2.4M308.01,140l2.4,2.4m0,-2.4l-2.4,2.4M308.18,133.01l2.4,2.4m0,-2.4l-2.4,2.4M308.35,126.01l2.4,2.4m0,-2.4l-2.4,2.4M308.91,119.03l2.4,2.4m0,-2.4l-2.4,2.4M309.7,112.08l2.4,2.4m0,-2.4l-2.4,2.4M310.59,105.14l2.4,2.4m0,-2.4l-2.4,2.4M312.18,98.32l2.4,2.4m0,-2.4l-2.4,2.4M314.43,91.74l2.4,2.4m0,-2.4l-2.4,2.4M316.68,85.12l2.4,2.4m0,-2.4l-2.4,2.4M319.92,78.94l2.4,2.4m0,-2.4l-2.4,2.4M323.04,72.71l2.4,2.4m0,-2.4l-2.4,2.4M327.62,67.49l2.4,2.4m0,-2.4l-2.4,2.4M333.35,63.51l2.4,2.4m0,-2.4l-2.4,2.4M339.76,60.81l2.4,2.4m0,-2.4l-2.4,2.4M346.63,59.54l2.4,2.4m0,-2.4l-2.4,2.4M353.42,60.45l2.4,2.4m0,-2.4l-2.4,2.4M358.83,64.83l2.4,2.4m0,-2.4l-2.4,2.4M365.08,67.2l2.4,2.4m0,-2.4l-2.4,2.4M372.07,67.3l2.4,2.4m0,-2.4l-2.4,2.4M379.05,67.8l2.4,2.4m0,-2.4l-2.4,2.4M386.02,68.46l2.4,2.4m0,-2.4l-2.4,2.4M392.98,69.13l2.4,2.4m0,-2.4l-2.4,2.4M399.96,69.67l2.4,2.4m0,-2.4l-2.4,2.4M406.95,70.04l2.4,2.4m0,-2.4l-2.4,2.4M413.92,70.65l2.4,2.4m0,-2.4l-2.4,2.4M420.83,71.74l2.4,2.4m0,-2.4l-2.4,2.4M427.6,73.48l2.4,2.4m0,-2.4l-2.4,2.4M434.19,75.81l2.4,2.4m0,-2.4l-2.4,2.4M440.59,78.65l2.4,2.4m0,-2.4l-2.4,2.4M446.86,81.75l2.4,2.4m0,-2.4l-2.4,2.4M453.1,84.92l2.4,2.4m0,-2.4l-2.4,2.4M459.36,88.06l2.4,2.4m0,-2.4l-2.4,2.4M465.7,91.02l2.4,2.4m0,-2.4l-2.4,2.4" stroke="#2eb42e" stroke-width="0.7"/>
<path d="M474,98 483,104 491.6,110 500,116 508,123" stroke="#2eb42e"/>
<path d="M475.71,98.74l2.4,2.4m0,-2.4l-2.4,2.4M481.54,102.62l2.4,2.4m0,-2.4l-2.4,2.4M487.28,106.62l2.4,2.4m0,-2.4l-2.4,2.4M493,110.66l2.4,2.4m0,-2.4l-2.4,2.4M498.7,114.73l2.4,2.4m0,-2.4l-2.4,2.4M503.97,119.33l2.4,2.4m0,-2.4l-2.4,2.4" stroke="#2eb42e" stroke-width="0.7"/>
<path d="M308.7,193.7 308.9,150 309.4,120 310,108 311.3,97.9 312.4,86.9 314.6,76.6 317.5,67.7 321.2,60.4 325.6,54.5 330.1,50.8 334.5,48.6 340.4,46.4 346.3,44.9 352.2,43.4 358,42.7 366.9,42.4 377.1,42.4 384.5,42.4 391.8,42.8 396.3,44.3 400.7,48 405.1,53.2 409,59.7 415.8,63.3 422.5,63.3 426.5,67.1 430.6,71.2 434.6,75.9 438.6,79.9 444,83.9 450.8,88.6 457.5,92.7 464.2,96 471,98.7" stroke="#3232c8"/>
<path d="M472.6,102.6 483.2,105.8 493.7,111.1 502.1,117.4 508.4,122.6" stroke="#3232c8"/>
<path d="M309,193.7 309.2,150 309.4,120 310,108 311.3,97.9 313.2,89 315.7,81.5 319.5,73.9 321.2,70.5 325.6,67.7 330.1,67 334.5,66.3 340.4,67 346.3,68.5 352.2,70.7 358,71.4 363.9,72.2 369.8,72.9 375,73 384.5,74.5 391.8,73.8 399.2,72.3 405,71.5 411.7,72 418.5,72.6 425.2,74 431.9,76 438.6,78.6 445.4,82 452.1,85.4 458.8,88.8 465.6,92 472.3,95" stroke="#3232c8"/>
<path d="M307.82,189l2.4,2.4m0,-2.4l-2.4,2.4M307.85,182l2.4,2.4m0,-2.4l-2.4,2.4M307.88,175l2.4,2.4m0,-2.4l-2.4,2.4M307.91,168l2.4,2.4m0,-2.4l-2.4,2.4M307.94,161l2.4,2.4m0,-2.4l-2.4,2.4M307.98,154l2.4,2.4m0,-2.4l-2.4,2.4M308.01,147l2.4,2.4m0,-2.4l-2.4,2.4M308.06,140l2.4,2.4m0,-2.4l-2.4,2.4M308.11,133l2.4,2.4m0,-2.4l-2.4,2.4M308.15,126l2.4,2.4m0,-2.4l-2.4,2.4M308.2,119l2.4,2.4m0,-2.4l-2.4,2.4M308.54,112.01l2.4,2.4m0,-2.4l-2.4,2.4M309.03,105.03l2.4,2.4m0,-2.4l-2.4,2.4M309.92,98.09l2.4,2.4m0,-2.4l-2.4,2.4M311.27,91.22l2.4,2.4m0,-2.4l-2.4,2.4M313.11,84.48l2.4,2.4m0,-2.4l-2.4,2.4M315.66,77.98l2.4,2.4m0,-2.4l-2.4,2.4M318.79,71.72l2.4,2.4m0,-2.4l-2.4,2.4M323.62,66.99l2.4,2.4m0,-2.4l-2.4,2.4M330.41,65.56l2.4,2.4m0,-2.4l-2.4,2.4M337.34,65.58l2.4,2.4m0,-2.4l-2.4,2.4M344.17,67.06l2.4,2.4m0,-2.4l-2.4,2.4M350.76,69.41l2.4,2.4m0,-2.4l-2.4,2.4M357.69,70.32l2.4,2.4m0,-2.4l-2.4,2.4M364.64,71.23l2.4,2.4m0,-2.4l-2.4,2.4M371.61,71.76l2.4,2.4m0,-2.4l-2.4,2.4M378.55,72.55l2.4,2.4m0,-2.4l-2.4,2.4M385.48,73.09l2.4,2.4m0,-2.4l-2.4,2.4M392.42,72.23l2.4,2.4m0,-2.4l-2.4,2.4M399.29,70.92l2.4,2.4m0,-2.4l-2.4,2.4M406.24,70.48l2.4,2.4m0,-2.4l-2.4,2.4M413.22,71.04l2.4,2.4m0,-2.4l-2.4,2.4M420.14,71.99l2.4,2.4m0,-2.4l-2.4,2.4M426.93,73.68l2.4,2.4m0,-2.4l-2.4,2.4M433.56,75.91l2.4,2.4m0,-2.4l-2.4,2.4M439.98,78.69l2.4,2.4m0,-2.4l-2.4,2.4M446.23,81.83l2.4,2.4m0,-2.4l-2.4,2.4M452.47,85l2.4,2.4m0,-2.4l-2.4,2.4M458.73,88.13l2.4,2.4m0,-2.4l-2.4,2.4M465.07,91.1l2.4,2.4m0,-2.4l-2.4,2.4" stroke="#3232c8" stroke-width="0.7"/>
<path d="M474,100 483,104.5 493,110 502,116.5 508.4,123" stroke="#3232c8"/>
<path d="M475.93,100.37l2.4,2.4m0,-2.4l-2.4,2.4M482.18,103.51l2.4,2.4m0,-2.4l-2.4,2.4M488.32,106.88l2.4,2.4m0,-2.4l-2.4,2.4M494.25,110.57l2.4,2.4m0,-2.4l-2.4,2.4M499.93,114.67l2.4,2.4m0,-2.4l-2.4,2.4M504.96,119.52l2.4,2.4m0,-2.4l-2.4,2.4" stroke="#3232c8" stroke-width="0.7"/>
<path d="M308.5,193.7 310.3,172 312.4,160 314.5,141.6 316.1,125.8 317.2,120 319.7,124 323.7,129.5 327.7,135 331.7,140 335.7,145 339.8,150" stroke="#2eb42e"/>
<path d="M309.3,193.7 311.1,172 313.2,160 315.3,141.6 316.9,125.8 318,120 320.5,124 324.5,129.5 328.5,135 332.5,140 336.5,145 340.6,150" stroke="#c8323c"/>
<path d="M308.39,189.01l2.4,2.4m0,-2.4l-2.4,2.4M308.97,182.04l2.4,2.4m0,-2.4l-2.4,2.4M309.55,175.06l2.4,2.4m0,-2.4l-2.4,2.4M310.37,168.12l2.4,2.4m0,-2.4l-2.4,2.4M311.58,161.22l2.4,2.4m0,-2.4l-2.4,2.4M312.52,154.29l2.4,2.4m0,-2.4l-2.4,2.4M313.31,147.33l2.4,2.4m0,-2.4l-2.4,2.4M314.1,140.38l2.4,2.4m0,-2.4l-2.4,2.4M314.81,133.41l2.4,2.4m0,-2.4l-2.4,2.4M315.51,126.45l2.4,2.4m0,-2.4l-2.4,2.4M316.66,119.55l2.4,2.4m0,-2.4l-2.4,2.4M320.2,124.03l2.4,2.4m0,-2.4l-2.4,2.4M324.31,129.69l2.4,2.4m0,-2.4l-2.4,2.4M328.5,135.3l2.4,2.4m0,-2.4l-2.4,2.4M332.87,140.77l2.4,2.4m0,-2.4l-2.4,2.4M337.28,146.21l2.4,2.4m0,-2.4l-2.4,2.4" stroke="#c8323c" stroke-width="0.7"/>
<path d="M309.2,193.7 311,172 313.1,160 315.2,141.6 316.8,125.8 317.9,120 320.4,124 324.4,129.5 328.4,135 332.4,140 336.4,145 340.5,150" stroke="#3232c8"/>
<path d="M308.6,193.7 310.4,172 312.5,160 314.6,141.6 316.2,125.8 317.3,120 319.8,124 323.8,129.5 327.8,135 331.8,140 335.8,145 339.9,150" stroke="#3232c8"/>
<path d="M307.69,189.01l2.4,2.4m0,-2.4l-2.4,2.4M308.27,182.04l2.4,2.4m0,-2.4l-2.4,2.4M308.85,175.06l2.4,2.4m0,-2.4l-2.4,2.4M309.67,168.12l2.4,2.4m0,-2.4l-2.4,2.4M310.88,161.22l2.4,2.4m0,-2.4l-2.4,2.4M311.82,154.29l2.4,2.4m0,-2.4l-2.4,2.4M312.61,147.33l2.4,2.4m0,-2.4l-2.4,2.4M313.4,140.38l2.4,2.4m0,-2.4l-2.4,2.4M314.11,133.41l2.4,2.4m0,-2.4l-2.4,2.4M314.81,126.45l2.4,2.4m0,-2.4l-2.4,2.4M315.96,119.55l2.4,2.4m0,-2.4l-2.4,2.4M319.5,124.03l2.4,2.4m0,-2.4l-2.4,2.4M323.61,129.69l2.4,2.4m0,-2.4l-2.4,2.4M327.8,135.3l2.4,2.4m0,-2.4l-2.4,2.4M332.17,140.77l2.4,2.4m0,-2.4l-2.4,2.4M336.58,146.21l2.4,2.4m0,-2.4l-2.4,2.4" stroke="#3232c8" stroke-width="0.7"/>
<path d="M308.9,193.7 310.7,172 312.8,160 314.9,141.6 316.5,125.8 317.6,120 320.1,124 324.1,129.5 328.1,135 332.1,140 336.1,145 340.2,150" stroke="#2a2a2a"/>
<path d="M508,125.1 499.2,127.6 490.4,130.2 482.8,132.1 477.7,134 471.4,138.4" stroke="#3232c8"/>
<path d="M508,125.7 499.2,128.9 490.4,132.7 482.8,135.8 478.4,137.7 475.2,141.5 472.7,145.3 471.4,148.5" stroke="#2eb42e"/>
<path d="M503.51,125.7l2.4,2.4m0,-2.4l-2.4,2.4M496.96,128.15l2.4,2.4m0,-2.4l-2.4,2.4M490.53,130.93l2.4,2.4m0,-2.4l-2.4,2.4M484.06,133.6l2.4,2.4m0,-2.4l-2.4,2.4M477.61,136.32l2.4,2.4m0,-2.4l-2.4,2.4M473.13,141.62l2.4,2.4m0,-2.4l-2.4,2.4" stroke="#2eb42e" stroke-width="0.7"/>
<path d="M508,125.4 499.2,128.4 490.4,132.2 482.8,135.3 478,137.5 474.8,141.5 472.3,145.5 471,148.5" stroke="#2a2a2a"/>
<path d="M503.49,125.33l2.4,2.4m0,-2.4l-2.4,2.4M496.9,127.68l2.4,2.4m0,-2.4l-2.4,2.4M490.47,130.45l2.4,2.4m0,-2.4l-2.4,2.4M484,133.12l2.4,2.4m0,-2.4l-2.4,2.4M477.59,135.94l2.4,2.4m0,-2.4l-2.4,2.4M473.07,141.15l2.4,2.4m0,-2.4l-2.4,2.4" stroke="#2a2a2a" stroke-width="0.7"/>
<path d="M508,126.4 499.2,131.4 490.4,136.5 482.8,140.9 479,144.1 477.1,149.1 475.2,155.4 473.3,161.7 471.4,163.6" stroke="#3232c8"/>
<path d="M503.76,126.93l2.4,2.4m0,-2.4l-2.4,2.4M497.67,130.39l2.4,2.4m0,-2.4l-2.4,2.4M491.62,133.9l2.4,2.4m0,-2.4l-2.4,2.4M485.56,137.41l2.4,2.4m0,-2.4l-2.4,2.4M479.74,141.26l2.4,2.4m0,-2.4l-2.4,2.4M476.22,147.07l2.4,2.4m0,-2.4l-2.4,2.4M474.14,153.75l2.4,2.4m0,-2.4l-2.4,2.4M472.11,160.45l2.4,2.4m0,-2.4l-2.4,2.4" stroke="#3232c8" stroke-width="0.7"/>
<path d="M508.5,126.4 499.7,131.4 490.9,136.5 483.3,140.9 479.5,144.1 477.6,149.1 475.7,155.4 473.8,161.7 471.9,163.6" stroke="#c8323c"/>
<path d="M504.26,126.93l2.4,2.4m0,-2.4l-2.4,2.4M498.17,130.39l2.4,2.4m0,-2.4l-2.4,2.4M492.12,133.9l2.4,2.4m0,-2.4l-2.4,2.4M486.06,137.41l2.4,2.4m0,-2.4l-2.4,2.4M480.24,141.26l2.4,2.4m0,-2.4l-2.4,2.4M476.72,147.07l2.4,2.4m0,-2.4l-2.4,2.4M474.64,153.75l2.4,2.4m0,-2.4l-2.4,2.4M472.61,160.45l2.4,2.4m0,-2.4l-2.4,2.4" stroke="#c8323c" stroke-width="0.7"/>
<path d="M507.6,126.7 498.8,131.7 490,136.8 482.4,141.2 478.6,144.4 476.7,149.4 474.8,155.7 472.9,162 471,163.9" stroke="#2a2a2a"/>
</g>
<rect x="297.99" y="2.91" width="220.33" height="190.78" fill="none" stroke="#3c3c3c" stroke-width="1.2"/>
<path d="M297.99,2.91h2M297.99,12h3.5M297.99,21.08h2M297.99,30.17h2M297.99,39.26h2M297.99,48.34h2M297.99,57.42h3.5M297.99,66.51h2M297.99,75.59h2M297.99,84.68h2M297.99,93.77h2M297.99,102.85h3.5M297.99,111.93h2M297.99,121.02h2M297.99,130.1h2M297.99,139.19h2M297.99,148.27h3.5M297.99,157.36h2M297.99,166.44h2M297.99,175.53h2M297.99,184.62h2M297.99,193.7h3.5M308,193.7v-3.5M318.01,193.7v-2M328.03,193.7v-2M338.05,193.7v-2M348.06,193.7v-3.5M358.07,193.7v-2M368.09,193.7v-2M378.11,193.7v-2M388.12,193.7v-3.5M398.13,193.7v-2M408.15,193.7v-2M418.17,193.7v-2M428.18,193.7v-3.5M438.2,193.7v-2M448.21,193.7v-2M458.23,193.7v-2M468.24,193.7v-3.5M478.25,193.7v-2M488.27,193.7v-2M498.28,193.7v-2M508.3,193.7v-3.5" stroke="#3c3c3c" stroke-width="1" fill="none"/>
<text x="295.09" y="15.7" text-anchor="end" style="font-family:'Liberation Serif',serif;font-weight:bold;font-size:9.3px" fill="#111" stroke="#111" stroke-width="0.25">-1</text>
<text x="295.09" y="61.12" text-anchor="end" style="font-family:'Liberation Serif',serif;font-weight:bold;font-size:9.3px" fill="#111" stroke="#111" stroke-width="0.25">-0.5</text>
<text x="295.09" y="106.55" text-anchor="end" style="font-family:'Liberation Serif',serif;font-weight:bold;font-size:9.3px" fill="#111" stroke="#111" stroke-width="0.25">0</text>
<text x="295.09" y="151.97" text-anchor="end" style="font-family:'Liberation Serif',serif;font-weight:bold;font-size:9.3px" fill="#111" stroke="#111" stroke-width="0.25">0.5</text>
<text x="295.09" y="197.4" text-anchor="end" style="font-family:'Liberation Serif',serif;font-weight:bold;font-size:9.3px" fill="#111" stroke="#111" stroke-width="0.25">1</text>
<text x="308" y="203.3" text-anchor="middle" style="font-family:'Liberation Serif',serif;font-weight:bold;font-size:9px" fill="#111" stroke="#111" stroke-width="0.25">0</text>
<text x="348.06" y="203.3" text-anchor="middle" style="font-family:'Liberation Serif',serif;font-weight:bold;font-size:9px" fill="#111" stroke="#111" stroke-width="0.25">0.2</text>
<text x="388.12" y="203.3" text-anchor="middle" style="font-family:'Liberation Serif',serif;font-weight:bold;font-size:9px" fill="#111" stroke="#111" stroke-width="0.25">0.4</text>
<text x="428.18" y="203.3" text-anchor="middle" style="font-family:'Liberation Serif',serif;font-weight:bold;font-size:9px" fill="#111" stroke="#111" stroke-width="0.25">0.6</text>
<text x="468.24" y="203.3" text-anchor="middle" style="font-family:'Liberation Serif',serif;font-weight:bold;font-size:9px" fill="#111" stroke="#111" stroke-width="0.25">0.8</text>
<text x="508.3" y="203.3" text-anchor="middle" style="font-family:'Liberation Serif',serif;font-weight:bold;font-size:9px" fill="#111" stroke="#111" stroke-width="0.25">1</text>
<text x="392.3" y="212.9" style="font-family:'Liberation Serif',serif;font-weight:bold;font-style:italic;font-size:12.2px" fill="#111">X/C<tspan dy="3.4" style="font-size:6.7px">local</tspan></text>
<text transform="translate(280.59,98.31) rotate(-90)" text-anchor="middle" style="font-family:'Liberation Serif',serif;font-weight:bold;font-style:italic;font-size:10.2px" fill="#111">Cp</text>
<text x="399.9" y="228" text-anchor="middle" style="font-family:'Liberation Serif',serif;font-size:13px" fill="#111">(b)</text>
<path d="M343.3,122.2H377.8" stroke="#2a2a2a" stroke-width="1.3"/>
<text x="383.7" y="124.6" style="font-family:'Liberation Serif',serif;font-weight:bold;font-style:italic;font-size:7.5px" fill="#111" stroke="#111" stroke-width="0.3">Isolated Nac, Config1, 90°</text>
<path d="M343.3,131.35H377.8" stroke="#c8323c" stroke-width="1.3"/>
<text x="383.7" y="133.75" style="font-family:'Liberation Serif',serif;font-weight:bold;font-style:italic;font-size:7.5px" fill="#111" stroke="#111" stroke-width="0.3">Isolated Nac, Config2, 90°</text>
<path d="M343.3,140.5H377.8" stroke="#2eb42e" stroke-width="1.3"/>
<text x="383.7" y="142.9" style="font-family:'Liberation Serif',serif;font-weight:bold;font-style:italic;font-size:7.5px" fill="#111" stroke="#111" stroke-width="0.3">Isolated Nac, Config3, 90°</text>
<path d="M343.3,149.65H377.8" stroke="#3232c8" stroke-width="1.3"/>
<text x="383.7" y="152.05" style="font-family:'Liberation Serif',serif;font-weight:bold;font-style:italic;font-size:7.5px" fill="#111" stroke="#111" stroke-width="0.3">Isolated Nac, Config4, 90°</text>
<path d="M343.3,158.8H377.8" stroke="#2a2a2a" stroke-width="1.3"/>
<path d="M359.25,157.5L361.85,160.1M359.25,160.1L361.85,157.5" stroke="#2a2a2a" stroke-width="0.8"/>
<text x="383.7" y="161.2" style="font-family:'Liberation Serif',serif;font-weight:bold;font-style:italic;font-size:7.5px" fill="#111" stroke="#111" stroke-width="0.3">Installed Nac, Config1, 90°</text>
<path d="M343.3,167.95H377.8" stroke="#c8323c" stroke-width="1.3"/>
<path d="M359.25,166.65L361.85,169.25M359.25,169.25L361.85,166.65" stroke="#c8323c" stroke-width="0.8"/>
<text x="383.7" y="170.35" style="font-family:'Liberation Serif',serif;font-weight:bold;font-style:italic;font-size:7.5px" fill="#111" stroke="#111" stroke-width="0.3">Installed Nac, Config2, 90°</text>
<path d="M343.3,177.1H377.8" stroke="#2eb42e" stroke-width="1.3"/>
<path d="M359.25,175.8L361.85,178.4M359.25,178.4L361.85,175.8" stroke="#2eb42e" stroke-width="0.8"/>
<text x="383.7" y="179.5" style="font-family:'Liberation Serif',serif;font-weight:bold;font-style:italic;font-size:7.5px" fill="#111" stroke="#111" stroke-width="0.3">Installed Nac, Config3, 90°</text>
<path d="M343.3,186.25H377.8" stroke="#3232c8" stroke-width="1.3"/>
<path d="M359.25,184.95L361.85,187.55M359.25,187.55L361.85,184.95" stroke="#3232c8" stroke-width="0.8"/>
<text x="383.7" y="188.65" style="font-family:'Liberation Serif',serif;font-weight:bold;font-style:italic;font-size:7.5px" fill="#111" stroke="#111" stroke-width="0.3">Installed Nac, Config4, 90°</text>
<clipPath id="cpc"><rect x="25.98" y="242.62" width="220.33" height="190.78"/></clipPath>
<g clip-path="url(#cpc)" fill="none" stroke-width="1.2" stroke-linejoin="round" stroke-linecap="round">
<path d="M36.3,433.4 36.4,400 36.6,370 37,340 37.7,320 38.3,303 38.9,298 39.5,299 40,304 40.5,306.1 41.6,303.9 42.6,306.1 43.7,310.3 44.7,311.3 46.8,310.3 48.9,307.6 51.1,306.1 55.4,305.5 59.8,305.5 64.2,307.3 73.1,310.8 80,312.5 90.8,315 100,315.6 107.4,316.7 114.7,318.9 122.1,321.2 129.5,322.6 136.8,323.4 144.2,324.1 151.6,323.4 158.9,321.9 165,320.4 173.4,320 181.8,320.5 190.3,321.4 198.7,322.8 206.6,325.2 215,330.3 221.8,335.3 226.8,341.2 231,348 234.4,354.7 236.9,361.4 237.5,364.8" stroke="#2a2a2a"/>
<path d="M36.5,433.4 36.7,400 37.2,370 38,350 38.9,340 39.5,319 40.1,293.7 41.1,276.8 42.3,270.4 44.8,270.9 46.5,273.5 48.2,278.5 50.7,283.6 51.1,285 52.1,291.3 52.6,300.8 53.2,309.2 54.2,315.5 54.7,320.8 55.8,318.7 57.4,313.4 59.5,309.2 61.6,306.6 64.7,304.5 66.8,304.5 67.9,307.1 70,309.2 74.2,310.3 80,310.8 90,311.5 100,312.3 107.4,314.5 114.7,316.7 122.1,318.9 129.5,320.4 136.8,321.9 144.2,322.6 151.6,321.9 158.9,320.4 165,318.5 173.4,318.2 181.8,318.5 190.3,319.4 198.7,321.1" stroke="#2a2a2a"/>
<path d="M35.32,428.7l2.4,2.4m0,-2.4l-2.4,2.4M35.36,421.7l2.4,2.4m0,-2.4l-2.4,2.4M35.4,414.7l2.4,2.4m0,-2.4l-2.4,2.4M35.45,407.7l2.4,2.4m0,-2.4l-2.4,2.4M35.49,400.7l2.4,2.4m0,-2.4l-2.4,2.4M35.58,393.7l2.4,2.4m0,-2.4l-2.4,2.4M35.7,386.7l2.4,2.4m0,-2.4l-2.4,2.4M35.82,379.7l2.4,2.4m0,-2.4l-2.4,2.4M35.93,372.7l2.4,2.4m0,-2.4l-2.4,2.4M36.12,365.71l2.4,2.4m0,-2.4l-2.4,2.4M36.4,358.71l2.4,2.4m0,-2.4l-2.4,2.4M36.68,351.72l2.4,2.4m0,-2.4l-2.4,2.4M37.17,344.74l2.4,2.4m0,-2.4l-2.4,2.4M37.73,337.76l2.4,2.4m0,-2.4l-2.4,2.4M37.93,330.76l2.4,2.4m0,-2.4l-2.4,2.4M38.13,323.77l2.4,2.4m0,-2.4l-2.4,2.4M38.32,316.77l2.4,2.4m0,-2.4l-2.4,2.4M38.49,309.77l2.4,2.4m0,-2.4l-2.4,2.4M38.66,302.77l2.4,2.4m0,-2.4l-2.4,2.4M38.82,295.78l2.4,2.4m0,-2.4l-2.4,2.4M39.12,288.78l2.4,2.4m0,-2.4l-2.4,2.4M39.53,281.8l2.4,2.4m0,-2.4l-2.4,2.4M40.05,274.82l2.4,2.4m0,-2.4l-2.4,2.4M42.36,269.45l2.4,2.4m0,-2.4l-2.4,2.4M46.15,274.79l2.4,2.4m0,-2.4l-2.4,2.4M48.91,281.2l2.4,2.4m0,-2.4l-2.4,2.4M50.56,287.96l2.4,2.4m0,-2.4l-2.4,2.4M51.15,294.92l2.4,2.4m0,-2.4l-2.4,2.4M51.57,301.91l2.4,2.4m0,-2.4l-2.4,2.4M52.14,308.88l2.4,2.4m0,-2.4l-2.4,2.4M53.14,315.81l2.4,2.4m0,-2.4l-2.4,2.4M54.84,316.71l2.4,2.4m0,-2.4l-2.4,2.4M57.22,310.15l2.4,2.4m0,-2.4l-2.4,2.4M61.43,304.7l2.4,2.4m0,-2.4l-2.4,2.4M66.54,305.51l2.4,2.4m0,-2.4l-2.4,2.4M72.29,308.91l2.4,2.4m0,-2.4l-2.4,2.4M79.25,309.63l2.4,2.4m0,-2.4l-2.4,2.4M86.23,310.12l2.4,2.4m0,-2.4l-2.4,2.4M93.21,310.65l2.4,2.4m0,-2.4l-2.4,2.4M100.13,311.5l2.4,2.4m0,-2.4l-2.4,2.4M106.84,313.49l2.4,2.4m0,-2.4l-2.4,2.4M113.55,315.51l2.4,2.4m0,-2.4l-2.4,2.4M120.26,317.51l2.4,2.4m0,-2.4l-2.4,2.4M127.1,318.96l2.4,2.4m0,-2.4l-2.4,2.4M133.96,320.36l2.4,2.4m0,-2.4l-2.4,2.4M140.9,321.2l2.4,2.4m0,-2.4l-2.4,2.4M147.87,320.94l2.4,2.4m0,-2.4l-2.4,2.4M154.77,319.8l2.4,2.4m0,-2.4l-2.4,2.4M161.52,318.01l2.4,2.4m0,-2.4l-2.4,2.4M168.41,317.14l2.4,2.4m0,-2.4l-2.4,2.4M175.41,317.11l2.4,2.4m0,-2.4l-2.4,2.4M182.4,317.49l2.4,2.4m0,-2.4l-2.4,2.4M189.35,318.25l2.4,2.4m0,-2.4l-2.4,2.4M196.21,319.64l2.4,2.4m0,-2.4l-2.4,2.4" stroke="#2a2a2a" stroke-width="0.7"/>
<path d="M201,322.5 207.1,324.4 215.5,329.5 222.3,334.5 227.3,340.4 231.5,347.2 234.9,353.9 237.4,360.6 238,364" stroke="#2a2a2a"/>
<path d="M203.14,322.34l2.4,2.4m0,-2.4l-2.4,2.4M209.41,325.33l2.4,2.4m0,-2.4l-2.4,2.4M215.33,329.06l2.4,2.4m0,-2.4l-2.4,2.4M220.97,333.21l2.4,2.4m0,-2.4l-2.4,2.4M225.52,338.52l2.4,2.4m0,-2.4l-2.4,2.4M229.31,344.4l2.4,2.4m0,-2.4l-2.4,2.4M232.62,350.56l2.4,2.4m0,-2.4l-2.4,2.4M235.31,357.01l2.4,2.4m0,-2.4l-2.4,2.4" stroke="#2a2a2a" stroke-width="0.7"/>
<path d="M36.7,433.4 38.25,400 39.87,370 42.3,340 44,327.4 46.5,315.6 49.9,305.5 54.9,295.4 61.7,289.5 70.1,286.1 78.5,284.4 86.9,283.2 95.4,282.7 100,283 107.4,282.1 114.7,280.6 119.2,280.6 122.1,282.1 125.1,285.8 127.3,289.5 129.5,295.4 130.9,301.3 132.4,307.2 134.6,314.5 136.8,320.4 139.8,323.4 144.2,324.1 151.6,323.4 158.9,322.6 170,321.9 173.4,324.4 181.8,325.3 190.3,327.8 198.7,330.3 207.1,333.7 215.5,338.7 222.3,343.8 228.2,349.7 232.4,355.6 235.7,360.6 237.5,364" stroke="#c8323c"/>
<path d="M35.66,428.7l2.4,2.4m0,-2.4l-2.4,2.4M35.99,421.71l2.4,2.4m0,-2.4l-2.4,2.4M36.31,414.72l2.4,2.4m0,-2.4l-2.4,2.4M36.64,407.73l2.4,2.4m0,-2.4l-2.4,2.4M36.96,400.73l2.4,2.4m0,-2.4l-2.4,2.4M37.32,393.74l2.4,2.4m0,-2.4l-2.4,2.4M37.7,386.75l2.4,2.4m0,-2.4l-2.4,2.4M38.08,379.76l2.4,2.4m0,-2.4l-2.4,2.4M38.46,372.77l2.4,2.4m0,-2.4l-2.4,2.4M38.91,365.79l2.4,2.4m0,-2.4l-2.4,2.4M39.48,358.81l2.4,2.4m0,-2.4l-2.4,2.4M40.04,351.84l2.4,2.4m0,-2.4l-2.4,2.4M40.61,344.86l2.4,2.4m0,-2.4l-2.4,2.4M41.22,337.89l2.4,2.4m0,-2.4l-2.4,2.4M42.16,330.95l2.4,2.4m0,-2.4l-2.4,2.4M43.26,324.04l2.4,2.4m0,-2.4l-2.4,2.4M44.71,317.19l2.4,2.4m0,-2.4l-2.4,2.4M46.62,310.47l2.4,2.4m0,-2.4l-2.4,2.4M48.92,303.86l2.4,2.4m0,-2.4l-2.4,2.4M52.02,297.59l2.4,2.4m0,-2.4l-2.4,2.4M56.13,292.09l2.4,2.4m0,-2.4l-2.4,2.4M61.63,287.84l2.4,2.4m0,-2.4l-2.4,2.4M68.12,285.22l2.4,2.4m0,-2.4l-2.4,2.4M74.93,283.68l2.4,2.4m0,-2.4l-2.4,2.4M81.84,282.55l2.4,2.4m0,-2.4l-2.4,2.4M88.79,281.82l2.4,2.4m0,-2.4l-2.4,2.4M95.78,281.6l2.4,2.4m0,-2.4l-2.4,2.4M102.75,281.32l2.4,2.4m0,-2.4l-2.4,2.4M109.65,280.19l2.4,2.4m0,-2.4l-2.4,2.4M116.57,279.4l2.4,2.4m0,-2.4l-2.4,2.4M122.35,282.69l2.4,2.4m0,-2.4l-2.4,2.4M126.18,288.52l2.4,2.4m0,-2.4l-2.4,2.4M128.52,295.11l2.4,2.4m0,-2.4l-2.4,2.4M130.16,301.92l2.4,2.4m0,-2.4l-2.4,2.4M132,308.67l2.4,2.4m0,-2.4l-2.4,2.4M134.16,315.33l2.4,2.4m0,-2.4l-2.4,2.4M137.63,321.23l2.4,2.4m0,-2.4l-2.4,2.4M144.16,322.79l2.4,2.4m0,-2.4l-2.4,2.4M151.13,322.12l2.4,2.4m0,-2.4l-2.4,2.4M158.09,321.38l2.4,2.4m0,-2.4l-2.4,2.4M165.08,320.93l2.4,2.4m0,-2.4l-2.4,2.4M171.43,322.64l2.4,2.4m0,-2.4l-2.4,2.4M178.21,323.84l2.4,2.4m0,-2.4l-2.4,2.4M185.01,325.4l2.4,2.4m0,-2.4l-2.4,2.4M191.73,327.38l2.4,2.4m0,-2.4l-2.4,2.4M198.4,329.47l2.4,2.4m0,-2.4l-2.4,2.4M204.89,332.09l2.4,2.4m0,-2.4l-2.4,2.4M210.98,335.52l2.4,2.4m0,-2.4l-2.4,2.4M216.81,339.38l2.4,2.4m0,-2.4l-2.4,2.4M222.26,343.76l2.4,2.4m0,-2.4l-2.4,2.4M227.17,348.74l2.4,2.4m0,-2.4l-2.4,2.4M231.23,354.44l2.4,2.4m0,-2.4l-2.4,2.4M235,360.34l2.4,2.4m0,-2.4l-2.4,2.4" stroke="#c8323c" stroke-width="0.7"/>
<path d="M37,433.4 38.9,400 40.94,370 44,340 46.5,327.4 49.9,315.6 54.9,305.5 61.7,298.7 70.1,293.7 78.5,290.3 86.9,286.9 95.4,284.4 100,285.8 105.9,288.7 110.3,291.7 114.7,295.4 117.7,299.8 120.6,304.2 123.6,310.1 126.5,316 129.5,319.7 133.9,321.2 139.8,321.9 147.2,321.9 156,321.9 170,322.6 173.4,325 181.8,325.9 190.3,328.4 198.7,330.9 207.1,334.3 215.5,339.3 222.3,344.4 228.2,350.3 232.4,356.2 235.7,361.2 237.5,364.6" stroke="#c8323c"/>
<path d="M36.4,433.4 38.25,400 40.23,370 43.2,340 46.5,330.7 51.6,322.3 58.3,313.9 65.1,307.2 73.5,300.4 81.9,293.7 90.3,287.8 98.7,282.7 100,282.1 105.9,279.2 114.7,278.4 122.1,278.4 129.5,278.7 136.8,278.9 144.2,278.9 150.8,279.9 153,283.6 155.3,289.5 157.5,296.8 159.7,304.2 161.9,310.8 164.8,315.3 169,318.5 173.4,321.9 181.8,326.9 190.3,331.2 198.7,335.4 207.1,340.4 215.5,346.3 223.9,352.2 230.7,358.1 234.9,362.3 237,364" stroke="#2eb42e"/>
<path d="M36.8,433.4 39.38,400 42.23,370 46.5,340 51.6,330.7 58.3,320.6 65.1,312.2 73.5,303.8 81.9,297.1 90.3,290.3 98.7,285.3 103,282 107.4,280 114.7,278.9 120.6,279.2 125.1,282.1 129.5,285.8 133.9,289.5 137.6,293.9 140.5,298.3 142.7,304.2 145.7,310.1 150.1,315.3 154.5,316 158.9,315.3 164.8,316.7 170,318.6 173.7,322.4 182.1,327.4 190.6,331.7 199,335.9 207.4,340.9 215.8,346.8 224.2,352.7 231,358.6 235.2,362.8 237.3,364.5" stroke="#2eb42e"/>
<path d="M35.87,428.71l2.4,2.4m0,-2.4l-2.4,2.4M36.41,421.73l2.4,2.4m0,-2.4l-2.4,2.4M36.95,414.75l2.4,2.4m0,-2.4l-2.4,2.4M37.48,407.77l2.4,2.4m0,-2.4l-2.4,2.4M38.02,400.79l2.4,2.4m0,-2.4l-2.4,2.4M38.65,393.82l2.4,2.4m0,-2.4l-2.4,2.4M39.31,386.85l2.4,2.4m0,-2.4l-2.4,2.4M39.97,379.88l2.4,2.4m0,-2.4l-2.4,2.4M40.63,372.92l2.4,2.4m0,-2.4l-2.4,2.4M41.43,365.96l2.4,2.4m0,-2.4l-2.4,2.4M42.42,359.03l2.4,2.4m0,-2.4l-2.4,2.4M43.4,352.1l2.4,2.4m0,-2.4l-2.4,2.4M44.39,345.17l2.4,2.4m0,-2.4l-2.4,2.4M45.57,338.31l2.4,2.4m0,-2.4l-2.4,2.4M48.94,332.17l2.4,2.4m0,-2.4l-2.4,2.4M52.59,326.2l2.4,2.4m0,-2.4l-2.4,2.4M56.46,320.37l2.4,2.4m0,-2.4l-2.4,2.4M60.77,314.86l2.4,2.4m0,-2.4l-2.4,2.4M65.33,309.57l2.4,2.4m0,-2.4l-2.4,2.4M70.28,304.62l2.4,2.4m0,-2.4l-2.4,2.4M75.54,300.01l2.4,2.4m0,-2.4l-2.4,2.4M81.01,295.65l2.4,2.4m0,-2.4l-2.4,2.4M86.45,291.24l2.4,2.4m0,-2.4l-2.4,2.4M92.19,287.26l2.4,2.4m0,-2.4l-2.4,2.4M98.15,283.6l2.4,2.4m0,-2.4l-2.4,2.4M103.99,279.81l2.4,2.4m0,-2.4l-2.4,2.4M110.72,278.12l2.4,2.4m0,-2.4l-2.4,2.4M117.68,277.91l2.4,2.4m0,-2.4l-2.4,2.4M123.84,280.86l2.4,2.4m0,-2.4l-2.4,2.4M129.2,285.36l2.4,2.4m0,-2.4l-2.4,2.4M134.26,290.16l2.4,2.4m0,-2.4l-2.4,2.4M138.42,295.77l2.4,2.4m0,-2.4l-2.4,2.4M141.19,302.17l2.4,2.4m0,-2.4l-2.4,2.4M144.27,308.45l2.4,2.4m0,-2.4l-2.4,2.4M148.69,313.86l2.4,2.4m0,-2.4l-2.4,2.4M155.5,314.45l2.4,2.4m0,-2.4l-2.4,2.4M162.34,315.2l2.4,2.4m0,-2.4l-2.4,2.4M168.92,317.52l2.4,2.4m0,-2.4l-2.4,2.4M174.1,322.15l2.4,2.4m0,-2.4l-2.4,2.4M180.12,325.73l2.4,2.4m0,-2.4l-2.4,2.4M186.33,328.95l2.4,2.4m0,-2.4l-2.4,2.4M192.59,332.09l2.4,2.4m0,-2.4l-2.4,2.4M198.81,335.3l2.4,2.4m0,-2.4l-2.4,2.4M204.82,338.88l2.4,2.4m0,-2.4l-2.4,2.4M210.62,342.8l2.4,2.4m0,-2.4l-2.4,2.4M216.35,346.83l2.4,2.4m0,-2.4l-2.4,2.4M222.07,350.85l2.4,2.4m0,-2.4l-2.4,2.4M227.43,355.35l2.4,2.4m0,-2.4l-2.4,2.4M232.53,360.13l2.4,2.4m0,-2.4l-2.4,2.4" stroke="#2eb42e" stroke-width="0.7"/>
<path d="M36.3,433.4 36.6,400 37.2,370 38.1,340 38.9,319 40.6,307.2 43.2,302.1 46.5,297.9 49.9,296.2 53.3,295.4 56.6,296.2 61.7,297.1 66.7,296.2 71.8,294.5 78.5,292.8 85.3,292 92,292.8 97.1,294.5 100.4,298.7 103.8,302.9 108,306.3 111.8,308.6 116.2,308.6 120.6,307.2 125.1,304.9 129.5,303.5 133.9,302.7 138.3,303.5 142.7,304.2 147.2,305.7 151.6,308.6 156,312.3 161.9,316.7 170,320 173.4,322.7 181.8,326.1 190.3,329.5 198.7,333.7 207.1,337.9 215.5,342.9 222.3,348 229,353.9 234.1,358.9 237.4,363.2" stroke="#3232c8"/>
<path d="M35.13,428.7l2.4,2.4m0,-2.4l-2.4,2.4M35.19,421.7l2.4,2.4m0,-2.4l-2.4,2.4M35.26,414.7l2.4,2.4m0,-2.4l-2.4,2.4M35.32,407.7l2.4,2.4m0,-2.4l-2.4,2.4M35.38,400.7l2.4,2.4m0,-2.4l-2.4,2.4M35.5,393.7l2.4,2.4m0,-2.4l-2.4,2.4M35.64,386.7l2.4,2.4m0,-2.4l-2.4,2.4M35.78,379.71l2.4,2.4m0,-2.4l-2.4,2.4M35.92,372.71l2.4,2.4m0,-2.4l-2.4,2.4M36.09,365.71l2.4,2.4m0,-2.4l-2.4,2.4M36.3,358.71l2.4,2.4m0,-2.4l-2.4,2.4M36.51,351.72l2.4,2.4m0,-2.4l-2.4,2.4M36.72,344.72l2.4,2.4m0,-2.4l-2.4,2.4M36.94,337.72l2.4,2.4m0,-2.4l-2.4,2.4M37.21,330.73l2.4,2.4m0,-2.4l-2.4,2.4M37.47,323.73l2.4,2.4m0,-2.4l-2.4,2.4M37.85,316.75l2.4,2.4m0,-2.4l-2.4,2.4M38.85,309.82l2.4,2.4m0,-2.4l-2.4,2.4M40.83,303.2l2.4,2.4m0,-2.4l-2.4,2.4M44.73,297.43l2.4,2.4m0,-2.4l-2.4,2.4M50.91,294.48l2.4,2.4m0,-2.4l-2.4,2.4M57.75,295.41l2.4,2.4m0,-2.4l-2.4,2.4M64.64,295.15l2.4,2.4m0,-2.4l-2.4,2.4M71.33,293.12l2.4,2.4m0,-2.4l-2.4,2.4M78.13,291.5l2.4,2.4m0,-2.4l-2.4,2.4M85.09,290.92l2.4,2.4m0,-2.4l-2.4,2.4M91.98,291.99l2.4,2.4m0,-2.4l-2.4,2.4M97.67,295.56l2.4,2.4m0,-2.4l-2.4,2.4M102.05,301.02l2.4,2.4m0,-2.4l-2.4,2.4M107.42,305.47l2.4,2.4m0,-2.4l-2.4,2.4M113.88,307.4l2.4,2.4m0,-2.4l-2.4,2.4M120.52,305.43l2.4,2.4m0,-2.4l-2.4,2.4M126.96,302.73l2.4,2.4m0,-2.4l-2.4,2.4M133.8,301.7l2.4,2.4m0,-2.4l-2.4,2.4M140.7,302.87l2.4,2.4m0,-2.4l-2.4,2.4M147.21,305.3l2.4,2.4m0,-2.4l-2.4,2.4M152.83,309.44l2.4,2.4m0,-2.4l-2.4,2.4M158.35,313.75l2.4,2.4m0,-2.4l-2.4,2.4M164.47,317.03l2.4,2.4m0,-2.4l-2.4,2.4M170.62,320.24l2.4,2.4m0,-2.4l-2.4,2.4M176.82,323.37l2.4,2.4m0,-2.4l-2.4,2.4M183.31,325.98l2.4,2.4m0,-2.4l-2.4,2.4M189.78,328.64l2.4,2.4m0,-2.4l-2.4,2.4M196.04,331.77l2.4,2.4m0,-2.4l-2.4,2.4M202.3,334.9l2.4,2.4m0,-2.4l-2.4,2.4M208.46,338.22l2.4,2.4m0,-2.4l-2.4,2.4M214.46,341.82l2.4,2.4m0,-2.4l-2.4,2.4M220.06,346.02l2.4,2.4m0,-2.4l-2.4,2.4M225.38,350.57l2.4,2.4m0,-2.4l-2.4,2.4M230.5,355.34l2.4,2.4m0,-2.4l-2.4,2.4M235.11,360.58l2.4,2.4m0,-2.4l-2.4,2.4" stroke="#3232c8" stroke-width="0.7"/>
<path d="M36.3,433.4 37.33,400 38.31,370 39.8,340 41.5,327.4 44.8,317.3 49.9,310.5 56.6,305.5 65.1,302.1 73.5,298.7 81.9,295.4 90.3,293.7 98.7,292.8 100,293.9 105.9,295.4 111.8,296.8 116.2,299.1 120.6,302.7 124.3,305.7 128,307.9 132.4,307.2 136.8,304.9 141.3,303.5 145.7,303 150.1,304.9 154.5,308.6 158.9,313 163.4,316.7 170,320.5 173.7,323.1 182.1,326.5 190.6,329.9 199,334.1 207.4,338.3 215.8,343.3 222.6,348.4 229.3,354.3 234.4,359.3 237.7,363.6" stroke="#3232c8"/>
<path d="M37.1,433.7 39.8,420.3 42,390.3 43,375 44.6,363.5 46.7,357.7 49.4,356.1 52,357.7 54.6,361.4 57.8,366.6 60.9,372.9 64.1,379.3 67.2,384.5 69.4,387.1" stroke="#2a2a2a"/>
<path d="M36.8,433.4 39.5,420 41.7,390 42.7,374.7 44.3,363.2 46.4,357.4 49.1,355.8 51.7,357.4 54.3,361.1 57.5,366.3 60.6,372.6 63.8,379 66.9,384.2 69.1,386.8" stroke="#3232c8"/>
<path d="M37.5,433.4 41,420 44.3,390 45.9,376.8 47.5,368.4 49.6,364.2 51.7,363.4 54.3,364.7 57.5,368.4 60.6,373.7 63.8,380 66.9,385.3 69.6,386.8" stroke="#2a2a2a"/>
<path d="M38.1,433.7 41.6,420.3 44.9,390.3 46.5,377.1 48.1,368.7 50.2,364.5 52.3,363.7 54.9,365 58.1,368.7 61.2,374 64.4,380.3 67.5,385.6 70.2,387.1" stroke="#c8323c"/>
<path d="M37.78,429.11l2.4,2.4m0,-2.4l-2.4,2.4M39.55,422.34l2.4,2.4m0,-2.4l-2.4,2.4M40.8,415.47l2.4,2.4m0,-2.4l-2.4,2.4M41.56,408.51l2.4,2.4m0,-2.4l-2.4,2.4M42.33,401.56l2.4,2.4m0,-2.4l-2.4,2.4M43.1,394.6l2.4,2.4m0,-2.4l-2.4,2.4M43.88,387.64l2.4,2.4m0,-2.4l-2.4,2.4M44.72,380.69l2.4,2.4m0,-2.4l-2.4,2.4M45.71,373.77l2.4,2.4m0,-2.4l-2.4,2.4M47.18,366.94l2.4,2.4m0,-2.4l-2.4,2.4M51.71,362.8l2.4,2.4m0,-2.4l-2.4,2.4M56.82,367.41l2.4,2.4m0,-2.4l-2.4,2.4M60.34,373.46l2.4,2.4m0,-2.4l-2.4,2.4M63.54,379.68l2.4,2.4m0,-2.4l-2.4,2.4M67.64,385.14l2.4,2.4m0,-2.4l-2.4,2.4" stroke="#c8323c" stroke-width="0.7"/>
<path d="M37.1,433.6 40.6,420.2 43.9,390.2 45.5,377 47.1,368.6 49.2,364.4 51.3,363.6 53.9,364.9 57.1,368.6 60.2,373.9 63.4,380.2 66.5,385.5 69.2,387" stroke="#2eb42e"/>
<path d="M37.7,433 41.2,419.6 44.5,389.6 46.1,376.4 47.7,368 49.8,363.8 51.9,363 54.5,364.3 57.7,368 60.8,373.3 64,379.6 67.1,384.9 69.8,386.4" stroke="#3232c8"/>
<path d="M37.38,428.41l2.4,2.4m0,-2.4l-2.4,2.4M39.15,421.64l2.4,2.4m0,-2.4l-2.4,2.4M40.4,414.77l2.4,2.4m0,-2.4l-2.4,2.4M41.16,407.81l2.4,2.4m0,-2.4l-2.4,2.4M41.93,400.86l2.4,2.4m0,-2.4l-2.4,2.4M42.7,393.9l2.4,2.4m0,-2.4l-2.4,2.4M43.48,386.94l2.4,2.4m0,-2.4l-2.4,2.4M44.32,379.99l2.4,2.4m0,-2.4l-2.4,2.4M45.31,373.07l2.4,2.4m0,-2.4l-2.4,2.4M46.78,366.24l2.4,2.4m0,-2.4l-2.4,2.4M51.31,362.1l2.4,2.4m0,-2.4l-2.4,2.4M56.42,366.71l2.4,2.4m0,-2.4l-2.4,2.4M59.94,372.76l2.4,2.4m0,-2.4l-2.4,2.4M63.14,378.98l2.4,2.4m0,-2.4l-2.4,2.4M67.24,384.44l2.4,2.4m0,-2.4l-2.4,2.4" stroke="#3232c8" stroke-width="0.7"/>
<path d="M234.4,363.2 227,363.8 219.6,364.8 211.2,365.9 203.8,366.7 199,366.9" stroke="#3232c8"/>
<path d="M234.4,363.8 226,364.8 218.6,365.9 211.2,367.5 204.8,369 200.6,371.2 199,372.8" stroke="#2a2a2a"/>
<path d="M229.72,363.01l2.4,2.4m0,-2.4l-2.4,2.4M222.78,363.9l2.4,2.4m0,-2.4l-2.4,2.4M215.88,365.03l2.4,2.4m0,-2.4l-2.4,2.4M209.04,366.53l2.4,2.4m0,-2.4l-2.4,2.4M202.35,368.46l2.4,2.4m0,-2.4l-2.4,2.4" stroke="#2a2a2a" stroke-width="0.7"/>
<path d="M234.4,364.8 227,366.4 219.6,368 213.3,369 206.9,370.1 202.7,371.7 199.5,373.3" stroke="#c8323c"/>
<path d="M229.78,364.34l2.4,2.4m0,-2.4l-2.4,2.4M222.94,365.82l2.4,2.4m0,-2.4l-2.4,2.4M216.07,367.17l2.4,2.4m0,-2.4l-2.4,2.4M209.16,368.3l2.4,2.4m0,-2.4l-2.4,2.4M202.44,370.14l2.4,2.4m0,-2.4l-2.4,2.4" stroke="#c8323c" stroke-width="0.7"/>
<path d="M236.6,368 230.2,368.5 221.7,369 214.3,370.1 208,371.2 203.8,372.8 200.6,374.9 199,378.6" stroke="#2eb42e"/>
<path d="M231.91,367.07l2.4,2.4m0,-2.4l-2.4,2.4M224.93,367.54l2.4,2.4m0,-2.4l-2.4,2.4M217.96,368.18l2.4,2.4m0,-2.4l-2.4,2.4M211.05,369.26l2.4,2.4m0,-2.4l-2.4,2.4M204.29,370.96l2.4,2.4m0,-2.4l-2.4,2.4M198.86,374.95l2.4,2.4m0,-2.4l-2.4,2.4" stroke="#2eb42e" stroke-width="0.7"/>
<path d="M235,364.2 227,365 219.6,366.2 211.2,367 204,368.2 199.4,370" stroke="#3232c8"/>
<path d="M230.32,363.35l2.4,2.4m0,-2.4l-2.4,2.4M223.37,364.19l2.4,2.4m0,-2.4l-2.4,2.4M216.45,365.19l2.4,2.4m0,-2.4l-2.4,2.4M209.48,365.89l2.4,2.4m0,-2.4l-2.4,2.4M202.59,367.08l2.4,2.4m0,-2.4l-2.4,2.4" stroke="#3232c8" stroke-width="0.7"/>
</g>
<rect x="25.98" y="242.62" width="220.33" height="190.78" fill="none" stroke="#3c3c3c" stroke-width="1.2"/>
<path d="M25.98,242.62h2M25.98,251.7h3.5M25.98,260.79h2M25.98,269.87h2M25.98,278.96h2M25.98,288.04h2M25.98,297.12h3.5M25.98,306.21h2M25.98,315.3h2M25.98,324.38h2M25.98,333.47h2M25.98,342.55h3.5M25.98,351.63h2M25.98,360.72h2M25.98,369.81h2M25.98,378.89h2M25.98,387.98h3.5M25.98,397.06h2M25.98,406.14h2M25.98,415.23h2M25.98,424.31h2M25.98,433.4h3.5M36,433.4v-3.5M46.02,433.4v-2M56.03,433.4v-2M66.05,433.4v-2M76.06,433.4v-3.5M86.08,433.4v-2M96.09,433.4v-2M106.11,433.4v-2M116.12,433.4v-3.5M126.14,433.4v-2M136.15,433.4v-2M146.17,433.4v-2M156.18,433.4v-3.5M166.2,433.4v-2M176.21,433.4v-2M186.23,433.4v-2M196.24,433.4v-3.5M206.25,433.4v-2M216.27,433.4v-2M226.28,433.4v-2M236.3,433.4v-3.5" stroke="#3c3c3c" stroke-width="1" fill="none"/>
<text x="23.09" y="255.4" text-anchor="end" style="font-family:'Liberation Serif',serif;font-weight:bold;font-size:9.3px" fill="#111" stroke="#111" stroke-width="0.25">-1</text>
<text x="23.09" y="300.82" text-anchor="end" style="font-family:'Liberation Serif',serif;font-weight:bold;font-size:9.3px" fill="#111" stroke="#111" stroke-width="0.25">-0.5</text>
<text x="23.09" y="346.25" text-anchor="end" style="font-family:'Liberation Serif',serif;font-weight:bold;font-size:9.3px" fill="#111" stroke="#111" stroke-width="0.25">0</text>
<text x="23.09" y="391.68" text-anchor="end" style="font-family:'Liberation Serif',serif;font-weight:bold;font-size:9.3px" fill="#111" stroke="#111" stroke-width="0.25">0.5</text>
<text x="23.09" y="437.1" text-anchor="end" style="font-family:'Liberation Serif',serif;font-weight:bold;font-size:9.3px" fill="#111" stroke="#111" stroke-width="0.25">1</text>
<text x="36" y="443" text-anchor="middle" style="font-family:'Liberation Serif',serif;font-weight:bold;font-size:9px" fill="#111" stroke="#111" stroke-width="0.25">0</text>
<text x="76.06" y="443" text-anchor="middle" style="font-family:'Liberation Serif',serif;font-weight:bold;font-size:9px" fill="#111" stroke="#111" stroke-width="0.25">0.2</text>
<text x="116.12" y="443" text-anchor="middle" style="font-family:'Liberation Serif',serif;font-weight:bold;font-size:9px" fill="#111" stroke="#111" stroke-width="0.25">0.4</text>
<text x="156.18" y="443" text-anchor="middle" style="font-family:'Liberation Serif',serif;font-weight:bold;font-size:9px" fill="#111" stroke="#111" stroke-width="0.25">0.6</text>
<text x="196.24" y="443" text-anchor="middle" style="font-family:'Liberation Serif',serif;font-weight:bold;font-size:9px" fill="#111" stroke="#111" stroke-width="0.25">0.8</text>
<text x="236.3" y="443" text-anchor="middle" style="font-family:'Liberation Serif',serif;font-weight:bold;font-size:9px" fill="#111" stroke="#111" stroke-width="0.25">1</text>
<text x="120.3" y="452.6" style="font-family:'Liberation Serif',serif;font-weight:bold;font-style:italic;font-size:12.2px" fill="#111">X/C<tspan dy="3.4" style="font-size:6.7px">local</tspan></text>
<text transform="translate(8.59,338.01) rotate(-90)" text-anchor="middle" style="font-family:'Liberation Serif',serif;font-weight:bold;font-style:italic;font-size:10.2px" fill="#111">Cp</text>
<text x="129.7" y="470.4" text-anchor="middle" style="font-family:'Liberation Serif',serif;font-size:13px" fill="#111">(c)</text>
<path d="M68.1,361.7H102.4" stroke="#2a2a2a" stroke-width="1.3"/>
<text x="108.5" y="364.1" style="font-family:'Liberation Serif',serif;font-weight:bold;font-style:italic;font-size:7.5px" fill="#111" stroke="#111" stroke-width="0.3">Isolated Nac, Config1, 180°</text>
<path d="M68.1,370.85H102.4" stroke="#c8323c" stroke-width="1.3"/>
<text x="108.5" y="373.25" style="font-family:'Liberation Serif',serif;font-weight:bold;font-style:italic;font-size:7.5px" fill="#111" stroke="#111" stroke-width="0.3">Isolated Nac, Config2, 180°</text>
<path d="M68.1,380H102.4" stroke="#2eb42e" stroke-width="1.3"/>
<text x="108.5" y="382.4" style="font-family:'Liberation Serif',serif;font-weight:bold;font-style:italic;font-size:7.5px" fill="#111" stroke="#111" stroke-width="0.3">Isolated Nac, Config3, 180°</text>
<path d="M68.1,389.15H102.4" stroke="#3232c8" stroke-width="1.3"/>
<text x="108.5" y="391.55" style="font-family:'Liberation Serif',serif;font-weight:bold;font-style:italic;font-size:7.5px" fill="#111" stroke="#111" stroke-width="0.3">Isolated Nac, Config4, 180°</text>
<path d="M68.1,398.3H102.4" stroke="#2a2a2a" stroke-width="1.3"/>
<path d="M83.95,397L86.55,399.6M83.95,399.6L86.55,397" stroke="#2a2a2a" stroke-width="0.8"/>
<text x="108.5" y="400.7" style="font-family:'Liberation Serif',serif;font-weight:bold;font-style:italic;font-size:7.5px" fill="#111" stroke="#111" stroke-width="0.3">Installed Nac, Config1, 180°</text>
<path d="M68.1,407.45H102.4" stroke="#c8323c" stroke-width="1.3"/>
<path d="M83.95,406.15L86.55,408.75M83.95,408.75L86.55,406.15" stroke="#c8323c" stroke-width="0.8"/>
<text x="108.5" y="409.85" style="font-family:'Liberation Serif',serif;font-weight:bold;font-style:italic;font-size:7.5px" fill="#111" stroke="#111" stroke-width="0.3">Installed Nac, Config2, 180°</text>
<path d="M68.1,416.6H102.4" stroke="#2eb42e" stroke-width="1.3"/>
<path d="M83.95,415.3L86.55,417.9M83.95,417.9L86.55,415.3" stroke="#2eb42e" stroke-width="0.8"/>
<text x="108.5" y="419" style="font-family:'Liberation Serif',serif;font-weight:bold;font-style:italic;font-size:7.5px" fill="#111" stroke="#111" stroke-width="0.3">Installed Nac, Config3, 180°</text>
<path d="M68.1,425.75H102.4" stroke="#3232c8" stroke-width="1.3"/>
<path d="M83.95,424.45L86.55,427.05M83.95,427.05L86.55,424.45" stroke="#3232c8" stroke-width="0.8"/>
<text x="108.5" y="428.15" style="font-family:'Liberation Serif',serif;font-weight:bold;font-style:italic;font-size:7.5px" fill="#111" stroke="#111" stroke-width="0.3">Installed Nac, Config4, 180°</text>
<clipPath id="cpd"><rect x="297.69" y="242.51" width="220.33" height="190.78"/></clipPath>
<g clip-path="url(#cpd)" fill="none" stroke-width="1.2" stroke-linejoin="round" stroke-linecap="round">
<path d="M308.4,433.3 308.5,400 308.7,360 309,330 309.6,300 310.5,285 311.5,278.3 312.6,282.7 313.9,287.8 315.2,295.4 316.4,302.9 317.5,305.5 320,300 323.1,296.5 328.8,298.5 332.7,299.8 336.5,299 340.4,298.3 343.3,299.3 345.2,304 347.1,308.8 349,311 353.8,308.8 357.7,307 361.5,307 365.4,308 368.3,311.6 371.2,312.5 375,311.8 380,311.4 388.4,313.9 396.8,317.3 405.3,318.1 413.7,318.6 422.1,318.9 430,318.3 435.8,318.8 441.5,320 447.3,321.7 453.1,323.5 458.8,325.2 464.6,326.9 470.4,328.7 476.2,330.4 481.9,333.8 487.7,337.3 490,339.6 496,344.5 501,350 505,356 508,362.5" stroke="#2a2a2a"/>
<path d="M308.2,433.3 308.3,400 308.5,360 308.8,330 309.3,300 310,280 310.6,272 311.2,270 313.5,273.5 315.4,279.2 317.3,285 319.2,290.8 322.1,294.6 325,296.5 328.8,298.5 332.7,299.4 336.5,298.5 340.4,297.5 343.3,298.5 345.2,303.3 347.1,308.1 349,310.4 353.8,308.1 357.7,306.2 361.5,306.2 365.4,307.1 368.3,311 371.2,311.9 375,311 378.8,309.6 384.6,311 390.4,312.9 396.8,315.6 405.3,316.4 413.7,316.9 422.1,317.3 430,316.5 435.8,317.1 441.5,318.3 447.3,319.4 453.1,321.2 458.8,322.3 464.6,323.5 471,325.2" stroke="#2a2a2a"/>
<path d="M307.01,428.6l2.4,2.4m0,-2.4l-2.4,2.4M307.03,421.6l2.4,2.4m0,-2.4l-2.4,2.4M307.05,414.6l2.4,2.4m0,-2.4l-2.4,2.4M307.07,407.6l2.4,2.4m0,-2.4l-2.4,2.4M307.09,400.6l2.4,2.4m0,-2.4l-2.4,2.4M307.13,393.6l2.4,2.4m0,-2.4l-2.4,2.4M307.16,386.6l2.4,2.4m0,-2.4l-2.4,2.4M307.2,379.6l2.4,2.4m0,-2.4l-2.4,2.4M307.23,372.6l2.4,2.4m0,-2.4l-2.4,2.4M307.27,365.6l2.4,2.4m0,-2.4l-2.4,2.4M307.3,358.6l2.4,2.4m0,-2.4l-2.4,2.4M307.37,351.6l2.4,2.4m0,-2.4l-2.4,2.4M307.44,344.6l2.4,2.4m0,-2.4l-2.4,2.4M307.51,337.6l2.4,2.4m0,-2.4l-2.4,2.4M307.58,330.6l2.4,2.4m0,-2.4l-2.4,2.4M307.69,323.6l2.4,2.4m0,-2.4l-2.4,2.4M307.8,316.6l2.4,2.4m0,-2.4l-2.4,2.4M307.92,309.6l2.4,2.4m0,-2.4l-2.4,2.4M308.04,302.61l2.4,2.4m0,-2.4l-2.4,2.4M308.21,295.61l2.4,2.4m0,-2.4l-2.4,2.4M308.46,288.61l2.4,2.4m0,-2.4l-2.4,2.4M308.7,281.62l2.4,2.4m0,-2.4l-2.4,2.4M309.11,274.63l2.4,2.4m0,-2.4l-2.4,2.4M310.59,269.69l2.4,2.4m0,-2.4l-2.4,2.4M313.53,275.98l2.4,2.4m0,-2.4l-2.4,2.4M315.72,282.63l2.4,2.4m0,-2.4l-2.4,2.4M317.9,289.28l2.4,2.4m0,-2.4l-2.4,2.4M322.48,294.43l2.4,2.4m0,-2.4l-2.4,2.4M328.7,297.55l2.4,2.4m0,-2.4l-2.4,2.4M335.51,297.25l2.4,2.4m0,-2.4l-2.4,2.4M342.15,297.42l2.4,2.4m0,-2.4l-2.4,2.4M344.72,303.93l2.4,2.4m0,-2.4l-2.4,2.4M348.54,308.85l2.4,2.4m0,-2.4l-2.4,2.4M354.84,305.81l2.4,2.4m0,-2.4l-2.4,2.4M361.62,305.31l2.4,2.4m0,-2.4l-2.4,2.4M366.8,309.39l2.4,2.4m0,-2.4l-2.4,2.4M373.36,309.9l2.4,2.4m0,-2.4l-2.4,2.4M380.03,308.99l2.4,2.4m0,-2.4l-2.4,2.4M386.76,310.9l2.4,2.4m0,-2.4l-2.4,2.4M393.28,313.42l2.4,2.4m0,-2.4l-2.4,2.4M400.07,314.82l2.4,2.4m0,-2.4l-2.4,2.4M407.04,315.38l2.4,2.4m0,-2.4l-2.4,2.4M414.03,315.77l2.4,2.4m0,-2.4l-2.4,2.4M421.02,316.09l2.4,2.4m0,-2.4l-2.4,2.4M427.99,315.38l2.4,2.4m0,-2.4l-2.4,2.4M434.95,315.97l2.4,2.4m0,-2.4l-2.4,2.4M441.8,317.38l2.4,2.4m0,-2.4l-2.4,2.4M448.61,318.98l2.4,2.4m0,-2.4l-2.4,2.4M455.39,320.67l2.4,2.4m0,-2.4l-2.4,2.4M462.25,322.06l2.4,2.4m0,-2.4l-2.4,2.4M469.03,323.8l2.4,2.4m0,-2.4l-2.4,2.4" stroke="#2a2a2a" stroke-width="0.7"/>
<path d="M472.5,327.8 476.2,329.2 481.9,332.7 487.7,336.2 490,337.9 495.4,342.1 500.5,348.8 504.7,355.6 508.1,362.3" stroke="#2a2a2a"/>
<path d="M474.57,327.84l2.4,2.4m0,-2.4l-2.4,2.4M480.58,331.42l2.4,2.4m0,-2.4l-2.4,2.4M486.57,335.05l2.4,2.4m0,-2.4l-2.4,2.4M492.13,339.29l2.4,2.4m0,-2.4l-2.4,2.4M496.85,344.39l2.4,2.4m0,-2.4l-2.4,2.4M500.86,350.12l2.4,2.4m0,-2.4l-2.4,2.4M504.39,356.15l2.4,2.4m0,-2.4l-2.4,2.4" stroke="#2a2a2a" stroke-width="0.7"/>
<path d="M309,433.3 309.2,400 309.6,370 310.5,350 312,330 314,315 316,303 318.3,294.6 321.2,288.8 325,283.1 330.8,280.2 338.5,278.3 348.1,276.3 357.7,274.4 367.3,272.5 376.9,271.2 380,270.9 386.7,270.4 390.1,272.6 393.5,276.8 396,281.9 397.7,288.6 399.4,297.1 401.1,305.5 402.7,312.2 405.3,317.3 408.6,322.3 413.7,324.8 420.4,324 427.2,323.2 433.9,324 440.6,325.7 447.4,327.4 454.1,329.1 460,330.7 464.6,334.4 469.2,335.6" stroke="#c8323c"/>
<path d="M471.5,336.2 476.2,337.9 481.9,340.2 487.7,343.1 490,344.2 497.1,350.5 503.8,357.3 508.1,362.3" stroke="#c8323c"/>
<path d="M309.3,433.3 309.5,400 309.9,370 310.8,350 312.5,330 314.5,316 316.5,306 319.2,298.5 323.1,290.8 326.9,286.9 332.7,285 340.4,284 350,282.1 359.6,281.2 369.2,279.6 378.8,278.8 380,276.8 385.1,276.8 388.4,279.4 390.1,283.6 391.8,290.3 393.5,298.7 395.2,307.2 397.7,313.9 400.2,317.3 405.3,318.9 413.7,319.8 422.1,319.8 430.5,320.6 438.9,323.2 447.4,326.5 460,329.1 465,332 469.5,334.5" stroke="#c8323c"/>
<path d="M308.12,428.6l2.4,2.4m0,-2.4l-2.4,2.4M308.16,421.6l2.4,2.4m0,-2.4l-2.4,2.4M308.21,414.6l2.4,2.4m0,-2.4l-2.4,2.4M308.25,407.6l2.4,2.4m0,-2.4l-2.4,2.4M308.29,400.6l2.4,2.4m0,-2.4l-2.4,2.4M308.37,393.6l2.4,2.4m0,-2.4l-2.4,2.4M308.46,386.6l2.4,2.4m0,-2.4l-2.4,2.4M308.56,379.6l2.4,2.4m0,-2.4l-2.4,2.4M308.65,372.6l2.4,2.4m0,-2.4l-2.4,2.4M308.84,365.61l2.4,2.4m0,-2.4l-2.4,2.4M309.16,358.61l2.4,2.4m0,-2.4l-2.4,2.4M309.47,351.62l2.4,2.4m0,-2.4l-2.4,2.4M309.95,344.64l2.4,2.4m0,-2.4l-2.4,2.4M310.55,337.66l2.4,2.4m0,-2.4l-2.4,2.4M311.14,330.69l2.4,2.4m0,-2.4l-2.4,2.4M312.02,323.75l2.4,2.4m0,-2.4l-2.4,2.4M313.01,316.82l2.4,2.4m0,-2.4l-2.4,2.4M314.27,309.93l2.4,2.4m0,-2.4l-2.4,2.4M315.9,303.14l2.4,2.4m0,-2.4l-2.4,2.4M318.36,296.59l2.4,2.4m0,-2.4l-2.4,2.4M321.52,290.35l2.4,2.4m0,-2.4l-2.4,2.4M326.38,285.48l2.4,2.4m0,-2.4l-2.4,2.4M333.1,283.59l2.4,2.4m0,-2.4l-2.4,2.4M340.03,282.64l2.4,2.4m0,-2.4l-2.4,2.4M346.9,281.28l2.4,2.4m0,-2.4l-2.4,2.4M353.84,280.43l2.4,2.4m0,-2.4l-2.4,2.4M360.79,279.6l2.4,2.4m0,-2.4l-2.4,2.4M367.69,278.45l2.4,2.4m0,-2.4l-2.4,2.4M374.66,277.84l2.4,2.4m0,-2.4l-2.4,2.4M380.52,275.6l2.4,2.4m0,-2.4l-2.4,2.4M386.75,277.84l2.4,2.4m0,-2.4l-2.4,2.4M389.36,284.23l2.4,2.4m0,-2.4l-2.4,2.4M390.99,291.04l2.4,2.4m0,-2.4l-2.4,2.4M392.38,297.9l2.4,2.4m0,-2.4l-2.4,2.4M393.75,304.76l2.4,2.4m0,-2.4l-2.4,2.4M396.01,311.38l2.4,2.4m0,-2.4l-2.4,2.4M400.3,316.51l2.4,2.4m0,-2.4l-2.4,2.4M407.11,318.02l2.4,2.4m0,-2.4l-2.4,2.4M414.07,318.6l2.4,2.4m0,-2.4l-2.4,2.4M421.07,318.62l2.4,2.4m0,-2.4l-2.4,2.4M428.04,319.28l2.4,2.4m0,-2.4l-2.4,2.4M434.78,321.1l2.4,2.4m0,-2.4l-2.4,2.4M441.38,323.43l2.4,2.4m0,-2.4l-2.4,2.4M447.99,325.67l2.4,2.4m0,-2.4l-2.4,2.4M454.84,327.08l2.4,2.4m0,-2.4l-2.4,2.4M461.36,329.38l2.4,2.4m0,-2.4l-2.4,2.4M467.45,332.83l2.4,2.4m0,-2.4l-2.4,2.4" stroke="#c8323c" stroke-width="0.7"/>
<path d="M471.9,336.8 476.6,338.5 482.3,340.8 488.1,343.7 490.4,344.8 497.5,351.1 504.2,357.9 508.5,362.9" stroke="#c8323c"/>
<path d="M473.99,336.79l2.4,2.4m0,-2.4l-2.4,2.4M480.5,339.36l2.4,2.4m0,-2.4l-2.4,2.4M486.78,342.44l2.4,2.4m0,-2.4l-2.4,2.4M492.43,346.47l2.4,2.4m0,-2.4l-2.4,2.4M497.58,351.2l2.4,2.4m0,-2.4l-2.4,2.4M502.5,356.19l2.4,2.4m0,-2.4l-2.4,2.4M507.1,361.46l2.4,2.4m0,-2.4l-2.4,2.4" stroke="#c8323c" stroke-width="0.7"/>
<path d="M308.8,433.3 309,400 309.6,370 311,350 313.5,336.9 319.2,317.7 326.9,304.2 334.6,296.5 344.2,290.8 353.8,285 363.5,280.2 373.1,276.3 380,274.3 388.4,272.6 396.8,271.8 405.3,271.5 410.3,272.1 413.7,274.3 416.2,276.8 417.9,281.9 419.6,288.6 421.3,297.1 422.9,305.5 424.6,312.2 427.2,317.3 430.5,319.8 438.9,323.2 447.4,326.5 454.1,330.7 460,334.1" stroke="#2eb42e"/>
<path d="M464.6,336.7 470.4,339 476.2,341.9 481.9,345.4 487.7,349.4 490,351.2 497.1,357.3 503.8,362.3 507.2,364" stroke="#2eb42e"/>
<path d="M309.1,433.3 309.3,400 310,370 311.8,350 315.4,336.9 321.2,321.5 328.8,310 336.5,302.3 346.2,295.6 355.8,290.8 365.4,286 375,282.1 380,277.7 388.4,276.8 396.8,276.8 405.3,276.8 409.5,280.2 412.8,286.9 415.4,295.4 417.9,303.8 420.4,310.5 423.8,315.6 428.8,318.1 437.3,320.6 447.4,324.8 460,331.6 465,335" stroke="#2eb42e"/>
<path d="M307.92,428.6l2.4,2.4m0,-2.4l-2.4,2.4M307.96,421.6l2.4,2.4m0,-2.4l-2.4,2.4M308.01,414.6l2.4,2.4m0,-2.4l-2.4,2.4M308.05,407.6l2.4,2.4m0,-2.4l-2.4,2.4M308.09,400.6l2.4,2.4m0,-2.4l-2.4,2.4M308.22,393.6l2.4,2.4m0,-2.4l-2.4,2.4M308.38,386.6l2.4,2.4m0,-2.4l-2.4,2.4M308.55,379.61l2.4,2.4m0,-2.4l-2.4,2.4M308.71,372.61l2.4,2.4m0,-2.4l-2.4,2.4M309.09,365.62l2.4,2.4m0,-2.4l-2.4,2.4M309.71,358.65l2.4,2.4m0,-2.4l-2.4,2.4M310.34,351.68l2.4,2.4m0,-2.4l-2.4,2.4M311.69,344.84l2.4,2.4m0,-2.4l-2.4,2.4M313.54,338.09l2.4,2.4m0,-2.4l-2.4,2.4M315.79,331.47l2.4,2.4m0,-2.4l-2.4,2.4M318.26,324.91l2.4,2.4m0,-2.4l-2.4,2.4M321.14,318.57l2.4,2.4m0,-2.4l-2.4,2.4M325,312.73l2.4,2.4m0,-2.4l-2.4,2.4M329.22,307.18l2.4,2.4m0,-2.4l-2.4,2.4M334.17,302.23l2.4,2.4m0,-2.4l-2.4,2.4M339.74,298.03l2.4,2.4m0,-2.4l-2.4,2.4M345.54,294.13l2.4,2.4m0,-2.4l-2.4,2.4M351.8,291l2.4,2.4m0,-2.4l-2.4,2.4M358.06,287.87l2.4,2.4m0,-2.4l-2.4,2.4M364.33,284.75l2.4,2.4m0,-2.4l-2.4,2.4M370.81,282.11l2.4,2.4m0,-2.4l-2.4,2.4M376.64,278.4l2.4,2.4m0,-2.4l-2.4,2.4M382.89,276.06l2.4,2.4m0,-2.4l-2.4,2.4M389.87,275.6l2.4,2.4m0,-2.4l-2.4,2.4M396.87,275.6l2.4,2.4m0,-2.4l-2.4,2.4M403.87,275.6l2.4,2.4m0,-2.4l-2.4,2.4M408.9,280.23l2.4,2.4m0,-2.4l-2.4,2.4M411.86,286.56l2.4,2.4m0,-2.4l-2.4,2.4M413.91,293.25l2.4,2.4m0,-2.4l-2.4,2.4M415.91,299.96l2.4,2.4m0,-2.4l-2.4,2.4M418.18,306.58l2.4,2.4m0,-2.4l-2.4,2.4M421.47,312.71l2.4,2.4m0,-2.4l-2.4,2.4M427.04,316.62l2.4,2.4m0,-2.4l-2.4,2.4M433.71,318.7l2.4,2.4m0,-2.4l-2.4,2.4M440.27,321.13l2.4,2.4m0,-2.4l-2.4,2.4M446.71,323.87l2.4,2.4m0,-2.4l-2.4,2.4M452.87,327.2l2.4,2.4m0,-2.4l-2.4,2.4M459.01,330.54l2.4,2.4m0,-2.4l-2.4,2.4" stroke="#2eb42e" stroke-width="0.7"/>
<path d="M465,337.5 470.8,339.8 476.6,342.7 482.3,346.2 488.1,350.2 490.4,352 497.5,358.1 504.2,363.1 507.6,364.8" stroke="#2eb42e"/>
<path d="M467.05,337.59l2.4,2.4m0,-2.4l-2.4,2.4M473.41,340.51l2.4,2.4m0,-2.4l-2.4,2.4M479.47,344l2.4,2.4m0,-2.4l-2.4,2.4M485.29,347.89l2.4,2.4m0,-2.4l-2.4,2.4M490.81,352.18l2.4,2.4m0,-2.4l-2.4,2.4M496.12,356.74l2.4,2.4m0,-2.4l-2.4,2.4M501.72,360.94l2.4,2.4m0,-2.4l-2.4,2.4" stroke="#2eb42e" stroke-width="0.7"/>
<path d="M308.6,433.3 308.8,400 309.2,370 310,350 311.5,330 312.8,318 314.4,310 317.3,300.4 321.2,293.7 326.9,289.8 334.6,287.9 342.3,286 351.9,284 361.5,282.1 371.2,280.8 380,280.2 385.1,281.1 388.4,283.6 390.9,288.6 393.5,295.4 396.8,302.1 400.2,307.2 403.6,308.8 408.6,308.8 412,306.3 415.4,302.9 419.6,299.6 422.9,297.9 425.5,300.4 428.8,305.5 432.2,310.5 435.6,315.6 438.9,318.9 444,320.6 449.6,323.5 455.4,327.5 460,330.4 464.6,332.7 469.2,333.8 471.5,333.3" stroke="#3232c8"/>
<path d="M471.5,338.5 476.2,340.2 481.9,343.1 487.7,346.5 490,348.3 497.1,353.9 503.8,360.6 507.2,363.2" stroke="#3232c8"/>
<path d="M308.7,433.3 308.9,400 309.4,370 310.4,350 312,335 313.8,324 316.3,315.8 319.2,308.1 323.1,303.3 328.8,300.4 334.6,298.5 340.4,296.5 348.1,294.6 357.7,292.7 367.3,291.7 376.9,290.8 380,289.5 388.4,288.6 393.5,291.2 398.5,293.7 405.3,297.1 413.7,301.3 422.1,304.6 430.5,308.8 434.6,311 439.2,314.2 443.8,318.8 449.6,323.5 455.4,327.5 460,330.4 464.6,332.7 469.2,334.8" stroke="#3232c8"/>
<path d="M307.52,428.6l2.4,2.4m0,-2.4l-2.4,2.4M307.56,421.6l2.4,2.4m0,-2.4l-2.4,2.4M307.61,414.6l2.4,2.4m0,-2.4l-2.4,2.4M307.65,407.6l2.4,2.4m0,-2.4l-2.4,2.4M307.69,400.6l2.4,2.4m0,-2.4l-2.4,2.4M307.79,393.6l2.4,2.4m0,-2.4l-2.4,2.4M307.9,386.6l2.4,2.4m0,-2.4l-2.4,2.4M308.02,379.6l2.4,2.4m0,-2.4l-2.4,2.4M308.14,372.6l2.4,2.4m0,-2.4l-2.4,2.4M308.36,365.61l2.4,2.4m0,-2.4l-2.4,2.4M308.71,358.62l2.4,2.4m0,-2.4l-2.4,2.4M309.06,351.63l2.4,2.4m0,-2.4l-2.4,2.4M309.64,344.65l2.4,2.4m0,-2.4l-2.4,2.4M310.38,337.69l2.4,2.4m0,-2.4l-2.4,2.4M311.3,330.76l2.4,2.4m0,-2.4l-2.4,2.4M312.43,323.85l2.4,2.4m0,-2.4l-2.4,2.4M314.33,317.12l2.4,2.4m0,-2.4l-2.4,2.4M316.64,310.51l2.4,2.4m0,-2.4l-2.4,2.4M319.98,304.46l2.4,2.4m0,-2.4l-2.4,2.4M325.42,300.31l2.4,2.4m0,-2.4l-2.4,2.4M331.93,297.78l2.4,2.4m0,-2.4l-2.4,2.4M338.56,295.52l2.4,2.4m0,-2.4l-2.4,2.4M345.34,293.79l2.4,2.4m0,-2.4l-2.4,2.4M352.19,292.35l2.4,2.4m0,-2.4l-2.4,2.4M359.09,291.23l2.4,2.4m0,-2.4l-2.4,2.4M366.05,290.51l2.4,2.4m0,-2.4l-2.4,2.4M373.02,289.85l2.4,2.4m0,-2.4l-2.4,2.4M379.74,288.2l2.4,2.4m0,-2.4l-2.4,2.4M386.7,287.45l2.4,2.4m0,-2.4l-2.4,2.4M392.99,290.35l2.4,2.4m0,-2.4l-2.4,2.4M399.25,293.48l2.4,2.4m0,-2.4l-2.4,2.4M405.51,296.61l2.4,2.4m0,-2.4l-2.4,2.4M411.78,299.74l2.4,2.4m0,-2.4l-2.4,2.4M418.26,302.36l2.4,2.4m0,-2.4l-2.4,2.4M424.63,305.26l2.4,2.4m0,-2.4l-2.4,2.4M430.86,308.44l2.4,2.4m0,-2.4l-2.4,2.4M436.78,312.15l2.4,2.4m0,-2.4l-2.4,2.4M441.9,316.9l2.4,2.4m0,-2.4l-2.4,2.4M447.27,321.38l2.4,2.4m0,-2.4l-2.4,2.4M452.97,325.45l2.4,2.4m0,-2.4l-2.4,2.4M458.86,329.23l2.4,2.4m0,-2.4l-2.4,2.4M465.15,332.3l2.4,2.4m0,-2.4l-2.4,2.4" stroke="#3232c8" stroke-width="0.7"/>
<path d="M471.2,338 475.9,339.7 481.6,342.6 487.4,346 489.7,347.8 496.8,353.4 503.5,360.1 506.9,362.7" stroke="#3232c8"/>
<path d="M473.29,337.99l2.4,2.4m0,-2.4l-2.4,2.4M479.6,340.99l2.4,2.4m0,-2.4l-2.4,2.4M485.67,344.49l2.4,2.4m0,-2.4l-2.4,2.4M491.22,348.74l2.4,2.4m0,-2.4l-2.4,2.4M496.6,353.2l2.4,2.4m0,-2.4l-2.4,2.4M501.55,358.15l2.4,2.4m0,-2.4l-2.4,2.4" stroke="#3232c8" stroke-width="0.7"/>
<path d="M308.7,433.3 310,415 311.4,392 313.8,375.8 315.6,364.7 317.5,357.3 318.4,355.9 320.2,358.2 323,365.6 326.7,371.1 330.4,376.7 334.1,382.2 337.8,387.7" stroke="#2eb42e"/>
<path d="M309.8,433.7 311.1,415.4 312.5,392.4 314.9,376.2 316.7,365.1 318.6,357.7 319.5,356.3 321.3,358.6 324.1,366 327.8,371.5 331.5,377.1 335.2,382.6 338.9,388.1" stroke="#c8323c"/>
<path d="M308.85,429.01l2.4,2.4m0,-2.4l-2.4,2.4M309.34,422.03l2.4,2.4m0,-2.4l-2.4,2.4M309.84,415.04l2.4,2.4m0,-2.4l-2.4,2.4M310.27,408.06l2.4,2.4m0,-2.4l-2.4,2.4M310.7,401.07l2.4,2.4m0,-2.4l-2.4,2.4M311.12,394.08l2.4,2.4m0,-2.4l-2.4,2.4M311.9,387.13l2.4,2.4m0,-2.4l-2.4,2.4M312.93,380.21l2.4,2.4m0,-2.4l-2.4,2.4M313.98,373.29l2.4,2.4m0,-2.4l-2.4,2.4M315.1,366.38l2.4,2.4m0,-2.4l-2.4,2.4M316.62,359.55l2.4,2.4m0,-2.4l-2.4,2.4M319.65,356.82l2.4,2.4m0,-2.4l-2.4,2.4M322.32,363.26l2.4,2.4m0,-2.4l-2.4,2.4M325.89,369.24l2.4,2.4m0,-2.4l-2.4,2.4M329.76,375.08l2.4,2.4m0,-2.4l-2.4,2.4M333.66,380.89l2.4,2.4m0,-2.4l-2.4,2.4M337.56,386.7l2.4,2.4m0,-2.4l-2.4,2.4" stroke="#c8323c" stroke-width="0.7"/>
<path d="M309.4,433.9 310.7,415.6 312.1,392.6 314.5,376.4 316.3,365.3 318.2,357.9 319.1,356.5 320.9,358.8 323.7,366.2 327.4,371.7 331.1,377.3 334.8,382.8 338.5,388.3" stroke="#2a2a2a"/>
<path d="M308.9,433 310.2,414.7 311.6,391.7 314,375.5 315.8,364.4 317.7,357 318.6,355.6 320.4,357.9 323.2,365.3 326.9,370.8 330.6,376.4 334.3,381.9 338,387.4" stroke="#3232c8"/>
<path d="M309.3,433.5 310.6,415.2 312,392.2 314.4,376 316.2,364.9 318.1,357.5 319,356.1 320.8,358.4 323.6,365.8 327.3,371.3 331,376.9 334.7,382.4 338.4,387.9" stroke="#3232c8"/>
<path d="M308.35,428.81l2.4,2.4m0,-2.4l-2.4,2.4M308.84,421.83l2.4,2.4m0,-2.4l-2.4,2.4M309.34,414.84l2.4,2.4m0,-2.4l-2.4,2.4M309.77,407.86l2.4,2.4m0,-2.4l-2.4,2.4M310.2,400.87l2.4,2.4m0,-2.4l-2.4,2.4M310.62,393.88l2.4,2.4m0,-2.4l-2.4,2.4M311.4,386.93l2.4,2.4m0,-2.4l-2.4,2.4M312.43,380.01l2.4,2.4m0,-2.4l-2.4,2.4M313.48,373.09l2.4,2.4m0,-2.4l-2.4,2.4M314.6,366.18l2.4,2.4m0,-2.4l-2.4,2.4M316.12,359.35l2.4,2.4m0,-2.4l-2.4,2.4M319.15,356.62l2.4,2.4m0,-2.4l-2.4,2.4M321.82,363.06l2.4,2.4m0,-2.4l-2.4,2.4M325.39,369.04l2.4,2.4m0,-2.4l-2.4,2.4M329.26,374.88l2.4,2.4m0,-2.4l-2.4,2.4M333.16,380.69l2.4,2.4m0,-2.4l-2.4,2.4M337.06,386.5l2.4,2.4m0,-2.4l-2.4,2.4" stroke="#3232c8" stroke-width="0.7"/>
<path d="M507.2,362.5 498.8,365 488.7,366.7 480.3,367.5 471.8,368.4" stroke="#3232c8"/>
<path d="M507.2,364 498.8,366.5 488.7,368.2 480.3,369 471.8,369.9" stroke="#2a2a2a"/>
<path d="M502.65,363.8l2.4,2.4m0,-2.4l-2.4,2.4M495.89,365.59l2.4,2.4m0,-2.4l-2.4,2.4M488.99,366.75l2.4,2.4m0,-2.4l-2.4,2.4M482.03,367.52l2.4,2.4m0,-2.4l-2.4,2.4M475.07,368.23l2.4,2.4m0,-2.4l-2.4,2.4" stroke="#2a2a2a" stroke-width="0.7"/>
<path d="M507.2,364.5 498.8,368 488.7,370.5 480.3,372 473,374 471.5,376" stroke="#c8323c"/>
<path d="M502.77,364.65l2.4,2.4m0,-2.4l-2.4,2.4M496.24,367.14l2.4,2.4m0,-2.4l-2.4,2.4M489.45,368.82l2.4,2.4m0,-2.4l-2.4,2.4M482.58,370.18l2.4,2.4m0,-2.4l-2.4,2.4M475.76,371.71l2.4,2.4m0,-2.4l-2.4,2.4" stroke="#c8323c" stroke-width="0.7"/>
<path d="M507.5,365 498.8,369.5 488.7,372.5 480.3,374.5 473.5,377 471.8,379" stroke="#2eb42e"/>
<path d="M503.19,365.41l2.4,2.4m0,-2.4l-2.4,2.4M496.92,368.5l2.4,2.4m0,-2.4l-2.4,2.4M490.21,370.49l2.4,2.4m0,-2.4l-2.4,2.4M483.44,372.27l2.4,2.4m0,-2.4l-2.4,2.4M476.72,374.17l2.4,2.4m0,-2.4l-2.4,2.4M470.82,377.54l2.4,2.4m0,-2.4l-2.4,2.4" stroke="#2eb42e" stroke-width="0.7"/>
<path d="M507.2,364.2 498.8,367.5 488.7,369.5 480.3,371 473.5,372.5 471.6,373.5" stroke="#3232c8"/>
<path d="M502.74,364.28l2.4,2.4m0,-2.4l-2.4,2.4M496.15,366.59l2.4,2.4m0,-2.4l-2.4,2.4M489.29,367.95l2.4,2.4m0,-2.4l-2.4,2.4M482.4,369.21l2.4,2.4m0,-2.4l-2.4,2.4M475.54,370.59l2.4,2.4m0,-2.4l-2.4,2.4" stroke="#3232c8" stroke-width="0.7"/>
</g>
<rect x="297.69" y="242.51" width="220.33" height="190.78" fill="none" stroke="#3c3c3c" stroke-width="1.2"/>
<path d="M297.69,242.51h2M297.69,251.6h3.5M297.69,260.69h2M297.69,269.77h2M297.69,278.86h2M297.69,287.94h2M297.69,297.02h3.5M297.69,306.11h2M297.69,315.19h2M297.69,324.28h2M297.69,333.37h2M297.69,342.45h3.5M297.69,351.53h2M297.69,360.62h2M297.69,369.7h2M297.69,378.79h2M297.69,387.88h3.5M297.69,396.96h2M297.69,406.04h2M297.69,415.13h2M297.69,424.21h2M297.69,433.3h3.5M307.7,433.3v-3.5M317.71,433.3v-2M327.73,433.3v-2M337.75,433.3v-2M347.76,433.3v-3.5M357.77,433.3v-2M367.79,433.3v-2M377.81,433.3v-2M387.82,433.3v-3.5M397.83,433.3v-2M407.85,433.3v-2M417.87,433.3v-2M427.88,433.3v-3.5M437.89,433.3v-2M447.91,433.3v-2M457.93,433.3v-2M467.94,433.3v-3.5M477.95,433.3v-2M487.97,433.3v-2M497.99,433.3v-2M508,433.3v-3.5" stroke="#3c3c3c" stroke-width="1" fill="none"/>
<text x="294.79" y="255.3" text-anchor="end" style="font-family:'Liberation Serif',serif;font-weight:bold;font-size:9.3px" fill="#111" stroke="#111" stroke-width="0.25">-1</text>
<text x="294.79" y="300.72" text-anchor="end" style="font-family:'Liberation Serif',serif;font-weight:bold;font-size:9.3px" fill="#111" stroke="#111" stroke-width="0.25">-0.5</text>
<text x="294.79" y="346.15" text-anchor="end" style="font-family:'Liberation Serif',serif;font-weight:bold;font-size:9.3px" fill="#111" stroke="#111" stroke-width="0.25">0</text>
<text x="294.79" y="391.57" text-anchor="end" style="font-family:'Liberation Serif',serif;font-weight:bold;font-size:9.3px" fill="#111" stroke="#111" stroke-width="0.25">0.5</text>
<text x="294.79" y="437" text-anchor="end" style="font-family:'Liberation Serif',serif;font-weight:bold;font-size:9.3px" fill="#111" stroke="#111" stroke-width="0.25">1</text>
<text x="307.7" y="442.9" text-anchor="middle" style="font-family:'Liberation Serif',serif;font-weight:bold;font-size:9px" fill="#111" stroke="#111" stroke-width="0.25">0</text>
<text x="347.76" y="442.9" text-anchor="middle" style="font-family:'Liberation Serif',serif;font-weight:bold;font-size:9px" fill="#111" stroke="#111" stroke-width="0.25">0.2</text>
<text x="387.82" y="442.9" text-anchor="middle" style="font-family:'Liberation Serif',serif;font-weight:bold;font-size:9px" fill="#111" stroke="#111" stroke-width="0.25">0.4</text>
<text x="427.88" y="442.9" text-anchor="middle" style="font-family:'Liberation Serif',serif;font-weight:bold;font-size:9px" fill="#111" stroke="#111" stroke-width="0.25">0.6</text>
<text x="467.94" y="442.9" text-anchor="middle" style="font-family:'Liberation Serif',serif;font-weight:bold;font-size:9px" fill="#111" stroke="#111" stroke-width="0.25">0.8</text>
<text x="508" y="442.9" text-anchor="middle" style="font-family:'Liberation Serif',serif;font-weight:bold;font-size:9px" fill="#111" stroke="#111" stroke-width="0.25">1</text>
<text x="392" y="452.5" style="font-family:'Liberation Serif',serif;font-weight:bold;font-style:italic;font-size:12.2px" fill="#111">X/C<tspan dy="3.4" style="font-size:6.7px">local</tspan></text>
<text transform="translate(280.29,337.91) rotate(-90)" text-anchor="middle" style="font-family:'Liberation Serif',serif;font-weight:bold;font-style:italic;font-size:10.2px" fill="#111">Cp</text>
<text x="400.2" y="470" text-anchor="middle" style="font-family:'Liberation Serif',serif;font-size:13px" fill="#111">(d)</text>
<path d="M339.4,361.7H373.7" stroke="#2a2a2a" stroke-width="1.3"/>
<text x="380" y="364.1" style="font-family:'Liberation Serif',serif;font-weight:bold;font-style:italic;font-size:7.5px" fill="#111" stroke="#111" stroke-width="0.3">Isolated Nac, Config1, 270°</text>
<path d="M339.4,370.85H373.7" stroke="#c8323c" stroke-width="1.3"/>
<text x="380" y="373.25" style="font-family:'Liberation Serif',serif;font-weight:bold;font-style:italic;font-size:7.5px" fill="#111" stroke="#111" stroke-width="0.3">Isolated Nac, Config2, 270°</text>
<path d="M339.4,380H373.7" stroke="#2eb42e" stroke-width="1.3"/>
<text x="380" y="382.4" style="font-family:'Liberation Serif',serif;font-weight:bold;font-style:italic;font-size:7.5px" fill="#111" stroke="#111" stroke-width="0.3">Isolated Nac, Config3, 270°</text>
<path d="M339.4,389.15H373.7" stroke="#3232c8" stroke-width="1.3"/>
<text x="380" y="391.55" style="font-family:'Liberation Serif',serif;font-weight:bold;font-style:italic;font-size:7.5px" fill="#111" stroke="#111" stroke-width="0.3">Isolated Nac, Config4, 270°</text>
<path d="M339.4,398.3H373.7" stroke="#2a2a2a" stroke-width="1.3"/>
<path d="M355.25,397L357.85,399.6M355.25,399.6L357.85,397" stroke="#2a2a2a" stroke-width="0.8"/>
<text x="380" y="400.7" style="font-family:'Liberation Serif',serif;font-weight:bold;font-style:italic;font-size:7.5px" fill="#111" stroke="#111" stroke-width="0.3">Installed Nac, Config1, 270°</text>
<path d="M339.4,407.45H373.7" stroke="#c8323c" stroke-width="1.3"/>
<path d="M355.25,406.15L357.85,408.75M355.25,408.75L357.85,406.15" stroke="#c8323c" stroke-width="0.8"/>
<text x="380" y="409.85" style="font-family:'Liberation Serif',serif;font-weight:bold;font-style:italic;font-size:7.5px" fill="#111" stroke="#111" stroke-width="0.3">Installed Nac, Config2, 270°</text>
<path d="M339.4,416.6H373.7" stroke="#2eb42e" stroke-width="1.3"/>
<path d="M355.25,415.3L357.85,417.9M355.25,417.9L357.85,415.3" stroke="#2eb42e" stroke-width="0.8"/>
<text x="380" y="419" style="font-family:'Liberation Serif',serif;font-weight:bold;font-style:italic;font-size:7.5px" fill="#111" stroke="#111" stroke-width="0.3">Installed Nac, Config3, 270°</text>
<path d="M339.4,425.75H373.7" stroke="#3232c8" stroke-width="1.3"/>
<path d="M355.25,424.45L357.85,427.05M355.25,427.05L357.85,424.45" stroke="#3232c8" stroke-width="0.8"/>
<text x="380" y="428.15" style="font-family:'Liberation Serif',serif;font-weight:bold;font-style:italic;font-size:7.5px" fill="#111" stroke="#111" stroke-width="0.3">Installed Nac, Config4, 270°</text>
</svg></body></html>
